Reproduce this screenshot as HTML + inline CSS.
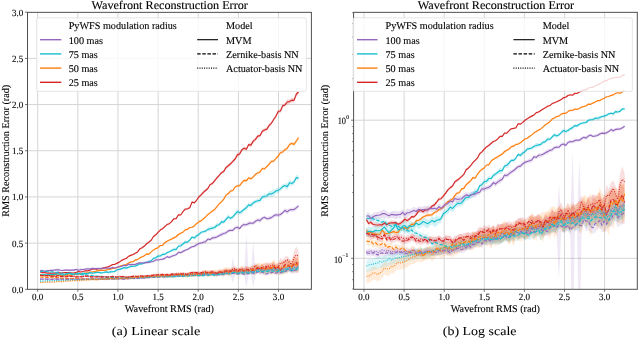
<!DOCTYPE html>
<html><head><meta charset="utf-8"><style>
html,body{margin:0;padding:0;width:638px;height:338px;overflow:hidden;background:#fff}
</style></head><body>
<svg width="638" height="338" viewBox="0 0 638 338" style="position:absolute;left:0;top:0;will-change:transform">
<rect width="638" height="338" fill="#fff"/>
<g font-family='"Liberation Serif", serif' fill="#000" style="text-rendering:geometricPrecision" stroke="#000" stroke-width="0.12">
<clipPath id="clipL"><rect x="27.5" y="12.35" width="283.9" height="276.95"/></clipPath>
<line x1="37.70" y1="12.35" x2="37.70" y2="289.3" stroke="#d5d5d5" stroke-width="1"/>
<line x1="77.84" y1="12.35" x2="77.84" y2="289.3" stroke="#d5d5d5" stroke-width="1"/>
<line x1="117.97" y1="12.35" x2="117.97" y2="289.3" stroke="#d5d5d5" stroke-width="1"/>
<line x1="158.11" y1="12.35" x2="158.11" y2="289.3" stroke="#d5d5d5" stroke-width="1"/>
<line x1="198.24" y1="12.35" x2="198.24" y2="289.3" stroke="#d5d5d5" stroke-width="1"/>
<line x1="238.38" y1="12.35" x2="238.38" y2="289.3" stroke="#d5d5d5" stroke-width="1"/>
<line x1="278.51" y1="12.35" x2="278.51" y2="289.3" stroke="#d5d5d5" stroke-width="1"/>
<line x1="27.5" y1="243.12" x2="311.4" y2="243.12" stroke="#d5d5d5" stroke-width="1"/>
<line x1="27.5" y1="196.93" x2="311.4" y2="196.93" stroke="#d5d5d5" stroke-width="1"/>
<line x1="27.5" y1="150.75" x2="311.4" y2="150.75" stroke="#d5d5d5" stroke-width="1"/>
<line x1="27.5" y1="104.56" x2="311.4" y2="104.56" stroke="#d5d5d5" stroke-width="1"/>
<line x1="27.5" y1="58.38" x2="311.4" y2="58.38" stroke="#d5d5d5" stroke-width="1"/>
<g clip-path="url(#clipL)">
<path d="M40.11,270.96 L42.38,272.19 L44.64,271.96 L46.91,272.55 L49.18,272.46 L51.44,272.54 L53.71,272.67 L55.98,272.50 L58.25,272.12 L60.51,272.51 L62.78,272.17 L65.05,271.92 L67.32,271.92 L69.58,272.02 L71.85,272.43 L74.12,272.13 L76.38,271.63 L78.65,270.84 L80.92,271.19 L83.19,271.00 L85.45,270.28 L87.72,270.37 L89.99,269.61 L92.26,268.39 L94.52,268.18 L96.79,268.50 L99.06,267.81 L101.32,267.68 L103.59,267.54 L105.86,266.65 L108.13,266.15 L110.39,264.98 L112.66,263.89 L114.93,263.78 L117.20,262.48 L119.46,261.16 L121.73,259.62 L124.00,258.59 L126.26,257.66 L128.53,255.69 L130.80,254.46 L133.07,253.64 L135.33,252.51 L137.60,251.18 L139.87,248.03 L142.14,246.85 L144.40,245.32 L146.67,242.99 L148.94,241.20 L151.20,239.47 L153.47,235.67 L155.74,233.76 L158.01,231.56 L160.27,229.21 L162.54,227.80 L164.81,225.56 L167.08,223.60 L169.34,222.86 L171.61,220.68 L173.88,217.78 L176.14,217.55 L178.41,213.66 L180.68,214.05 L182.95,210.66 L185.21,208.10 L187.48,207.61 L189.75,206.54 L192.02,200.86 L194.28,201.76 L196.55,199.21 L198.82,195.44 L201.08,193.79 L203.35,190.21 L205.62,188.95 L207.89,187.33 L210.15,183.39 L212.42,181.88 L214.69,179.19 L216.96,176.53 L219.22,174.18 L221.49,171.33 L223.76,169.73 L226.02,165.96 L228.29,163.75 L230.56,162.17 L232.83,159.66 L235.09,157.36 L237.36,152.73 L239.63,151.84 L241.90,148.18 L244.16,146.56 L246.43,147.58 L248.70,143.10 L250.96,143.10 L253.23,138.98 L255.50,137.39 L257.77,134.63 L260.03,134.12 L262.30,129.36 L264.57,128.18 L266.84,127.13 L269.10,123.32 L271.37,121.60 L273.64,117.91 L275.90,114.65 L278.17,109.84 L280.44,108.92 L282.71,103.93 L284.97,103.12 L287.24,99.23 L289.51,99.52 L291.78,97.64 L294.04,98.62 L296.31,91.97 L298.58,89.21 L298.58,94.43 L296.31,96.50 L294.04,102.07 L291.78,102.70 L289.51,103.65 L287.24,104.78 L284.97,106.79 L282.71,107.68 L280.44,113.15 L278.17,113.10 L275.90,118.03 L273.64,121.05 L271.37,125.06 L269.10,127.57 L266.84,131.12 L264.57,131.83 L262.30,133.16 L260.03,137.25 L257.77,137.71 L255.50,141.41 L253.23,143.32 L250.96,147.07 L248.70,146.12 L246.43,150.73 L244.16,149.75 L241.90,151.45 L239.63,156.11 L237.36,156.98 L235.09,160.64 L232.83,163.07 L230.56,165.43 L228.29,167.64 L226.02,168.89 L223.76,173.05 L221.49,174.00 L219.22,176.66 L216.96,179.25 L214.69,182.20 L212.42,185.06 L210.15,185.59 L207.89,189.65 L205.62,191.94 L203.35,194.47 L201.08,195.89 L198.82,198.56 L196.55,201.34 L194.28,203.86 L192.02,203.44 L189.75,208.97 L187.48,209.93 L185.21,210.24 L182.95,212.78 L180.68,215.87 L178.41,215.77 L176.14,219.83 L173.88,219.64 L171.61,222.69 L169.34,224.53 L167.08,225.53 L164.81,227.72 L162.54,229.61 L160.27,231.01 L158.01,233.22 L155.74,235.86 L153.47,237.41 L151.20,240.95 L148.94,242.87 L146.67,244.54 L144.40,246.79 L142.14,248.77 L139.87,249.67 L137.60,252.59 L135.33,253.90 L133.07,255.28 L130.80,256.25 L128.53,256.98 L126.26,259.31 L124.00,260.04 L121.73,261.11 L119.46,262.70 L117.20,263.76 L114.93,264.93 L112.66,265.21 L110.39,266.59 L108.13,267.43 L105.86,267.80 L103.59,268.74 L101.32,269.47 L99.06,269.26 L96.79,269.92 L94.52,269.30 L92.26,269.69 L89.99,270.69 L87.72,271.37 L85.45,271.28 L83.19,272.04 L80.92,272.80 L78.65,272.26 L76.38,272.85 L74.12,273.40 L71.85,273.58 L69.58,273.13 L67.32,273.30 L65.05,273.29 L62.78,273.28 L60.51,273.81 L58.25,273.18 L55.98,273.84 L53.71,273.65 L51.44,273.85 L49.18,273.83 L46.91,273.58 L44.64,273.00 L42.38,273.42 L40.11,272.41 Z" fill="#d62728" fill-opacity="0.2" stroke="none"/>
<path d="M40.11,273.93 L42.38,274.58 L44.64,274.43 L46.91,274.79 L49.18,275.02 L51.44,274.96 L53.71,275.00 L55.98,273.93 L58.25,274.66 L60.51,274.87 L62.78,274.56 L65.05,274.53 L67.32,274.39 L69.58,274.44 L71.85,274.53 L74.12,273.67 L76.38,273.49 L78.65,273.30 L80.92,273.46 L83.19,273.12 L85.45,272.21 L87.72,272.46 L89.99,271.49 L92.26,271.36 L94.52,270.97 L96.79,270.41 L99.06,269.97 L101.32,269.67 L103.59,269.77 L105.86,269.56 L108.13,268.95 L110.39,268.72 L112.66,267.84 L114.93,267.60 L117.20,267.03 L119.46,266.01 L121.73,264.95 L124.00,264.43 L126.26,263.95 L128.53,262.25 L130.80,261.31 L133.07,261.06 L135.33,259.29 L137.60,258.94 L139.87,257.13 L142.14,256.02 L144.40,254.95 L146.67,252.93 L148.94,253.50 L151.20,251.08 L153.47,249.24 L155.74,247.74 L158.01,246.77 L160.27,244.73 L162.54,244.61 L164.81,241.84 L167.08,240.40 L169.34,239.14 L171.61,237.83 L173.88,236.87 L176.14,235.70 L178.41,233.14 L180.68,232.18 L182.95,231.19 L185.21,228.87 L187.48,228.32 L189.75,226.70 L192.02,226.33 L194.28,224.98 L196.55,222.80 L198.82,220.62 L201.08,219.83 L203.35,217.68 L205.62,216.08 L207.89,213.44 L210.15,211.57 L212.42,209.53 L214.69,208.22 L216.96,205.43 L219.22,202.68 L221.49,200.75 L223.76,197.97 L226.02,194.03 L228.29,192.07 L230.56,189.62 L232.83,189.09 L235.09,185.72 L237.36,184.47 L239.63,184.39 L241.90,181.08 L244.16,179.04 L246.43,178.92 L248.70,176.50 L250.96,177.46 L253.23,175.28 L255.50,173.08 L257.77,171.73 L260.03,170.56 L262.30,167.11 L264.57,167.53 L266.84,165.19 L269.10,162.72 L271.37,160.05 L273.64,159.48 L275.90,157.22 L278.17,154.57 L280.44,151.37 L282.71,150.48 L284.97,148.11 L287.24,147.01 L289.51,143.02 L291.78,141.87 L294.04,142.84 L296.31,138.60 L298.58,135.79 L298.58,139.72 L296.31,143.37 L294.04,146.04 L291.78,144.87 L289.51,146.10 L287.24,149.82 L284.97,150.97 L282.71,153.64 L280.44,154.12 L278.17,157.72 L275.90,159.79 L273.64,162.78 L271.37,162.81 L269.10,166.03 L266.84,167.76 L264.57,170.36 L262.30,169.78 L260.03,173.25 L257.77,174.43 L255.50,175.66 L253.23,178.46 L250.96,180.05 L248.70,179.22 L246.43,182.43 L244.16,181.60 L241.90,184.33 L239.63,187.04 L237.36,187.14 L235.09,188.39 L232.83,191.81 L230.56,192.46 L228.29,195.00 L226.02,196.19 L223.76,200.50 L221.49,202.90 L219.22,204.80 L216.96,208.02 L214.69,210.69 L212.42,212.32 L210.15,214.23 L207.89,215.51 L205.62,217.84 L203.35,220.07 L201.08,221.91 L198.82,223.05 L196.55,224.61 L194.28,226.92 L192.02,228.24 L189.75,228.35 L187.48,230.49 L185.21,230.71 L182.95,233.11 L180.68,234.31 L178.41,235.82 L176.14,237.84 L173.88,238.87 L171.61,240.24 L169.34,241.04 L167.08,242.10 L164.81,243.53 L162.54,246.31 L160.27,246.30 L158.01,248.59 L155.74,249.46 L153.47,250.60 L151.20,252.61 L148.94,254.84 L146.67,254.75 L144.40,256.41 L142.14,257.46 L139.87,258.60 L137.60,260.37 L135.33,260.57 L133.07,262.43 L130.80,262.50 L128.53,263.84 L126.26,265.05 L124.00,265.72 L121.73,266.16 L119.46,267.09 L117.20,268.07 L114.93,268.84 L112.66,269.07 L110.39,269.78 L108.13,270.00 L105.86,270.75 L103.59,270.86 L101.32,270.90 L99.06,271.27 L96.79,271.42 L94.52,272.06 L92.26,272.40 L89.99,272.52 L87.72,273.68 L85.45,273.75 L83.19,274.25 L80.92,275.03 L78.65,274.50 L76.38,274.63 L74.12,274.69 L71.85,275.61 L69.58,275.73 L67.32,275.39 L65.05,275.60 L62.78,275.88 L60.51,275.91 L58.25,275.75 L55.98,275.07 L53.71,276.01 L51.44,276.05 L49.18,276.08 L46.91,276.02 L44.64,275.52 L42.38,276.13 L40.11,275.04 Z" fill="#ff7f0e" fill-opacity="0.2" stroke="none"/>
<path d="M40.11,273.96 L42.38,273.74 L44.64,273.64 L46.91,273.80 L49.18,273.04 L51.44,273.39 L53.71,273.68 L55.98,273.03 L58.25,272.37 L60.51,273.41 L62.78,274.19 L65.05,273.39 L67.32,272.98 L69.58,272.06 L71.85,273.16 L74.12,273.22 L76.38,272.42 L78.65,271.79 L80.92,273.00 L83.19,271.73 L85.45,272.61 L87.72,272.48 L89.99,271.70 L92.26,271.99 L94.52,271.79 L96.79,271.21 L99.06,271.18 L101.32,271.63 L103.59,271.46 L105.86,270.79 L108.13,271.03 L110.39,270.26 L112.66,270.80 L114.93,270.26 L117.20,268.80 L119.46,268.34 L121.73,267.43 L124.00,266.22 L126.26,266.80 L128.53,266.01 L130.80,265.22 L133.07,265.16 L135.33,264.86 L137.60,263.49 L139.87,262.60 L142.14,262.59 L144.40,261.30 L146.67,261.16 L148.94,259.83 L151.20,259.70 L153.47,257.20 L155.74,256.62 L158.01,254.64 L160.27,254.59 L162.54,252.74 L164.81,253.11 L167.08,251.18 L169.34,250.41 L171.61,249.25 L173.88,247.43 L176.14,247.77 L178.41,244.88 L180.68,243.83 L182.95,242.30 L185.21,240.66 L187.48,240.56 L189.75,238.82 L192.02,235.61 L194.28,236.38 L196.55,233.67 L198.82,232.97 L201.08,230.77 L203.35,230.28 L205.62,229.42 L207.89,227.85 L210.15,226.13 L212.42,226.23 L214.69,225.58 L216.96,223.05 L219.22,222.94 L221.49,219.62 L223.76,220.33 L226.02,217.22 L228.29,214.28 L230.56,216.48 L232.83,214.91 L235.09,212.15 L237.36,208.68 L239.63,210.46 L241.90,209.26 L244.16,207.25 L246.43,204.63 L248.70,203.01 L250.96,202.81 L253.23,200.80 L255.50,199.54 L257.77,198.67 L260.03,198.03 L262.30,194.81 L264.57,193.75 L266.84,193.94 L269.10,191.01 L271.37,190.86 L273.64,189.50 L275.90,188.80 L278.17,187.37 L280.44,186.78 L282.71,184.17 L284.97,183.46 L287.24,183.34 L289.51,179.55 L291.78,180.97 L294.04,179.79 L296.31,174.98 L298.58,175.75 L298.58,180.49 L296.31,180.21 L294.04,184.39 L291.78,185.98 L289.51,186.06 L287.24,189.95 L284.97,187.70 L282.71,189.06 L280.44,190.98 L278.17,193.41 L275.90,193.28 L273.64,196.18 L271.37,197.01 L269.10,196.47 L266.84,197.99 L264.57,198.67 L262.30,199.23 L260.03,202.85 L257.77,202.86 L255.50,203.42 L253.23,205.07 L250.96,207.84 L248.70,206.67 L246.43,210.73 L244.16,211.23 L241.90,213.65 L239.63,214.92 L237.36,214.44 L235.09,216.29 L232.83,218.90 L230.56,220.12 L228.29,219.46 L226.02,221.46 L223.76,223.85 L221.49,224.20 L219.22,226.46 L216.96,227.51 L214.69,229.48 L212.42,229.93 L210.15,231.28 L207.89,230.97 L205.62,232.93 L203.35,233.21 L201.08,233.79 L198.82,236.40 L196.55,237.97 L194.28,239.62 L192.02,238.47 L189.75,241.53 L187.48,243.59 L185.21,243.37 L182.95,245.78 L180.68,247.77 L178.41,247.59 L176.14,251.13 L173.88,251.42 L171.61,251.75 L169.34,252.96 L167.08,254.04 L164.81,255.65 L162.54,256.00 L160.27,257.39 L158.01,257.50 L155.74,258.91 L153.47,259.56 L151.20,262.17 L148.94,263.06 L146.67,263.69 L144.40,264.14 L142.14,265.11 L139.87,265.06 L137.60,266.43 L135.33,267.33 L133.07,267.26 L130.80,267.49 L128.53,268.46 L126.26,269.39 L124.00,269.00 L121.73,269.90 L119.46,270.39 L117.20,270.78 L114.93,272.42 L112.66,272.77 L110.39,273.52 L108.13,273.72 L105.86,273.06 L103.59,273.48 L101.32,274.11 L99.06,273.88 L96.79,273.26 L94.52,273.99 L92.26,274.31 L89.99,273.60 L87.72,274.40 L85.45,274.61 L83.19,275.03 L80.92,275.09 L78.65,274.93 L76.38,274.67 L74.12,275.31 L71.85,275.87 L69.58,274.08 L67.32,275.00 L65.05,275.69 L62.78,276.15 L60.51,275.69 L58.25,275.14 L55.98,275.40 L53.71,275.64 L51.44,275.99 L49.18,276.11 L46.91,276.08 L44.64,276.11 L42.38,275.88 L40.11,276.20 Z" fill="#17becf" fill-opacity="0.2" stroke="none"/>
<path d="M40.11,269.55 L42.38,269.40 L44.64,270.38 L46.91,269.62 L49.18,269.41 L51.44,269.31 L53.71,269.07 L55.98,268.60 L58.25,268.34 L60.51,269.14 L62.78,269.51 L65.05,269.09 L67.32,268.99 L69.58,269.01 L71.85,269.10 L74.12,268.85 L76.38,268.39 L78.65,269.12 L80.92,268.08 L83.19,268.42 L85.45,268.15 L87.72,267.51 L89.99,267.99 L92.26,267.32 L94.52,267.60 L96.79,267.27 L99.06,267.15 L101.32,267.23 L103.59,266.82 L105.86,267.22 L108.13,266.93 L110.39,267.35 L112.66,266.10 L114.93,266.91 L117.20,266.31 L119.46,265.47 L121.73,264.98 L124.00,264.07 L126.26,264.64 L128.53,262.98 L130.80,263.18 L133.07,263.13 L135.33,263.16 L137.60,262.00 L139.87,261.39 L142.14,261.79 L144.40,261.66 L146.67,261.05 L148.94,260.87 L151.20,260.57 L153.47,260.31 L155.74,258.57 L158.01,258.70 L160.27,258.39 L162.54,257.97 L164.81,257.01 L167.08,255.30 L169.34,255.92 L171.61,254.99 L173.88,253.66 L176.14,253.54 L178.41,250.94 L180.68,251.30 L182.95,249.78 L185.21,249.09 L187.48,248.18 L189.75,246.44 L192.02,245.43 L194.28,244.79 L196.55,242.99 L198.82,242.14 L201.08,241.53 L203.35,240.36 L205.62,239.87 L207.89,237.39 L210.15,238.26 L212.42,235.86 L214.69,235.81 L216.96,235.29 L219.22,233.75 L221.49,232.26 L223.76,231.88 L226.02,230.72 L228.29,229.06 L230.56,228.74 L232.83,228.79 L235.09,225.91 L237.36,225.39 L239.63,226.89 L241.90,223.84 L244.16,222.41 L246.43,223.12 L248.70,221.01 L250.96,221.47 L253.23,221.39 L255.50,219.17 L257.77,218.17 L260.03,218.36 L262.30,216.48 L264.57,215.52 L266.84,217.07 L269.10,216.16 L271.37,215.73 L273.64,213.66 L275.90,212.94 L278.17,212.96 L280.44,212.32 L282.71,210.96 L284.97,208.21 L287.24,209.46 L289.51,208.25 L291.78,207.66 L294.04,207.41 L296.31,205.73 L298.58,203.93 L298.58,207.73 L296.31,210.06 L294.04,211.63 L291.78,211.72 L289.51,211.85 L287.24,214.34 L284.97,212.48 L282.71,214.59 L280.44,216.66 L278.17,217.25 L275.90,216.67 L273.64,218.09 L271.37,219.60 L269.10,220.50 L266.84,220.46 L264.57,218.90 L262.30,220.04 L260.03,223.06 L257.77,221.58 L255.50,223.35 L253.23,225.03 L250.96,224.73 L248.70,225.86 L246.43,226.47 L244.16,226.70 L241.90,227.26 L239.63,230.19 L237.36,229.14 L235.09,229.98 L232.83,232.20 L230.56,232.04 L228.29,232.55 L226.02,234.89 L223.76,235.01 L221.49,236.97 L219.22,237.36 L216.96,238.58 L214.69,239.44 L212.42,239.75 L210.15,241.08 L207.89,240.68 L205.62,243.60 L203.35,244.21 L201.08,244.39 L198.82,245.07 L196.55,246.39 L194.28,247.97 L192.02,248.05 L189.75,249.64 L187.48,250.68 L185.21,251.56 L182.95,252.99 L180.68,254.04 L178.41,253.65 L176.14,256.07 L173.88,257.25 L171.61,257.54 L169.34,258.96 L167.08,258.02 L164.81,259.76 L162.54,260.31 L160.27,260.63 L158.01,261.31 L155.74,261.14 L153.47,262.67 L151.20,262.99 L148.94,263.84 L146.67,263.81 L144.40,264.12 L142.14,264.29 L139.87,264.06 L137.60,264.99 L135.33,265.56 L133.07,265.91 L130.80,266.03 L128.53,265.50 L126.26,266.79 L124.00,266.51 L121.73,267.51 L119.46,267.65 L117.20,268.31 L114.93,269.23 L112.66,268.80 L110.39,269.42 L108.13,269.15 L105.86,269.28 L103.59,269.26 L101.32,269.69 L99.06,269.92 L96.79,269.65 L94.52,269.63 L92.26,269.44 L89.99,270.29 L87.72,270.06 L85.45,270.15 L83.19,270.59 L80.92,271.04 L78.65,271.36 L76.38,270.45 L74.12,271.38 L71.85,271.26 L69.58,271.62 L67.32,271.37 L65.05,271.08 L62.78,271.59 L60.51,271.31 L58.25,271.29 L55.98,271.10 L53.71,271.50 L51.44,271.38 L49.18,271.51 L46.91,272.07 L44.64,272.48 L42.38,271.68 L40.11,271.65 Z" fill="#9467bd" fill-opacity="0.2" stroke="none"/>
<path d="M40.11,278.68 L42.38,278.74 L44.64,278.79 L46.91,278.62 L49.18,278.86 L51.44,279.06 L53.71,278.77 L55.98,278.68 L58.25,278.87 L60.51,278.65 L62.78,278.71 L65.05,278.68 L67.32,278.83 L69.58,278.59 L71.85,278.45 L74.12,278.52 L76.38,278.61 L78.65,278.68 L80.92,278.79 L83.19,278.54 L85.45,278.65 L87.72,278.72 L89.99,278.68 L92.26,278.54 L94.52,278.76 L96.79,278.66 L99.06,278.44 L101.32,278.47 L103.59,278.51 L105.86,278.45 L108.13,278.41 L110.39,278.57 L112.66,278.10 L114.93,278.31 L117.20,278.18 L119.46,278.19 L121.73,278.28 L124.00,278.53 L126.26,278.17 L128.53,277.97 L130.80,277.66 L133.07,277.80 L135.33,277.99 L137.60,277.81 L139.87,277.56 L142.14,277.02 L144.40,277.47 L146.67,276.95 L148.94,276.81 L151.20,276.53 L153.47,276.24 L155.74,276.81 L158.01,275.99 L160.27,276.12 L162.54,275.75 L164.81,276.16 L167.08,275.77 L169.34,275.36 L171.61,275.59 L173.88,275.21 L176.14,275.28 L178.41,274.71 L180.68,275.40 L182.95,275.01 L185.21,274.57 L187.48,274.83 L189.75,273.92 L192.02,274.02 L194.28,273.50 L196.55,274.08 L198.82,273.91 L201.08,274.05 L203.35,274.21 L205.62,272.81 L207.89,273.68 L210.15,273.03 L212.42,272.44 L214.69,273.29 L216.96,273.08 L219.22,273.34 L221.49,273.73 L223.76,272.83 L226.02,272.52 L228.29,271.64 L230.56,272.33 L232.83,257.11 L235.09,272.02 L237.36,272.62 L239.63,272.51 L241.90,271.75 L244.16,273.13 L246.43,233.56 L248.70,272.21 L250.96,271.38 L253.23,241.01 L255.50,271.71 L257.77,270.24 L260.03,269.47 L262.30,269.51 L264.57,271.87 L266.84,272.50 L269.10,270.32 L271.37,270.83 L273.64,269.97 L275.90,271.47 L278.17,269.32 L280.44,271.47 L282.71,270.02 L284.97,269.64 L287.24,268.45 L289.51,267.41 L291.78,268.26 L294.04,267.78 L296.31,266.78 L298.58,266.35 L298.58,272.96 L296.31,273.00 L294.04,273.29 L291.78,273.96 L289.51,272.31 L287.24,271.91 L284.97,273.81 L282.71,273.27 L280.44,274.60 L278.17,274.93 L275.90,275.05 L273.64,273.94 L271.37,274.33 L269.10,275.23 L266.84,275.41 L264.57,275.14 L262.30,274.66 L260.03,274.77 L257.77,273.19 L255.50,275.11 L253.23,287.45 L250.96,274.46 L248.70,274.99 L246.43,287.45 L244.16,275.78 L241.90,274.75 L239.63,275.06 L237.36,275.10 L235.09,274.95 L232.83,282.86 L230.56,275.52 L228.29,275.12 L226.02,275.07 L223.76,275.18 L221.49,276.08 L219.22,275.77 L216.96,276.14 L214.69,275.54 L212.42,275.61 L210.15,275.64 L207.89,276.56 L205.62,275.17 L203.35,276.43 L201.08,276.05 L198.82,276.67 L196.55,276.24 L194.28,275.99 L192.02,276.37 L189.75,275.92 L187.48,276.69 L185.21,276.46 L182.95,277.14 L180.68,277.14 L178.41,276.66 L176.14,277.17 L173.88,277.55 L171.61,277.42 L169.34,277.17 L167.08,277.53 L164.81,277.91 L162.54,277.61 L160.27,277.86 L158.01,277.64 L155.74,278.38 L153.47,278.10 L151.20,278.05 L148.94,278.34 L146.67,278.47 L144.40,278.86 L142.14,278.49 L139.87,278.92 L137.60,279.18 L135.33,279.30 L133.07,279.13 L130.80,279.01 L128.53,279.25 L126.26,279.40 L124.00,279.77 L121.73,279.53 L119.46,279.45 L117.20,279.42 L114.93,279.49 L112.66,279.32 L110.39,279.70 L108.13,279.58 L105.86,279.61 L103.59,279.65 L101.32,279.63 L99.06,279.56 L96.79,279.78 L94.52,279.85 L92.26,279.67 L89.99,279.76 L87.72,279.80 L85.45,279.74 L83.19,279.64 L80.92,279.86 L78.65,279.75 L76.38,279.70 L74.12,279.59 L71.85,279.53 L69.58,279.65 L67.32,279.86 L65.05,279.72 L62.78,279.74 L60.51,279.68 L58.25,279.88 L55.98,279.71 L53.71,279.79 L51.44,280.04 L49.18,279.87 L46.91,279.64 L44.64,279.80 L42.38,279.75 L40.11,279.69 Z" fill="#9467bd" fill-opacity="0.15" stroke="none"/>
<path d="M40.11,270.39 L42.38,270.47 L44.64,270.31 L46.91,270.58 L49.18,270.84 L51.44,271.04 L53.71,271.27 L55.98,271.61 L58.25,271.20 L60.51,272.10 L62.78,272.37 L65.05,272.71 L67.32,272.50 L69.58,272.14 L71.85,272.73 L74.12,273.15 L76.38,273.07 L78.65,273.70 L80.92,273.74 L83.19,274.06 L85.45,273.70 L87.72,274.41 L89.99,274.45 L92.26,274.83 L94.52,275.04 L96.79,275.32 L99.06,275.47 L101.32,275.55 L103.59,276.17 L105.86,276.91 L108.13,276.52 L110.39,276.63 L112.66,276.97 L114.93,277.01 L117.20,277.09 L119.46,277.29 L121.73,277.61 L124.00,277.44 L126.26,277.30 L128.53,277.12 L130.80,277.20 L133.07,277.08 L135.33,276.56 L137.60,277.06 L139.87,276.98 L142.14,276.82 L144.40,276.24 L146.67,276.18 L148.94,276.22 L151.20,275.80 L153.47,275.74 L155.74,275.58 L158.01,275.64 L160.27,275.62 L162.54,275.55 L164.81,275.65 L167.08,275.79 L169.34,275.71 L171.61,275.56 L173.88,275.53 L176.14,275.12 L178.41,274.79 L180.68,274.86 L182.95,275.26 L185.21,274.82 L187.48,274.81 L189.75,274.95 L192.02,274.47 L194.28,274.10 L196.55,274.07 L198.82,274.15 L201.08,274.43 L203.35,274.70 L205.62,273.81 L207.89,273.97 L210.15,273.69 L212.42,273.07 L214.69,274.22 L216.96,273.18 L219.22,272.84 L221.49,272.93 L223.76,272.24 L226.02,271.09 L228.29,271.67 L230.56,271.55 L232.83,270.71 L235.09,270.12 L237.36,271.65 L239.63,271.73 L241.90,270.42 L244.16,270.71 L246.43,270.69 L248.70,271.78 L250.96,271.25 L253.23,270.01 L255.50,269.40 L257.77,269.40 L260.03,268.51 L262.30,269.24 L264.57,270.21 L266.84,269.21 L269.10,268.43 L271.37,268.43 L273.64,268.83 L275.90,268.38 L278.17,269.22 L280.44,269.07 L282.71,270.19 L284.97,267.41 L287.24,266.68 L289.51,266.78 L291.78,268.21 L294.04,267.17 L296.31,266.66 L298.58,265.98 L298.58,270.66 L296.31,271.83 L294.04,271.42 L291.78,272.57 L289.51,271.93 L287.24,271.14 L284.97,273.38 L282.71,273.63 L280.44,273.69 L278.17,272.81 L275.90,274.06 L273.64,273.37 L271.37,273.51 L269.10,273.42 L266.84,273.55 L264.57,273.98 L262.30,273.22 L260.03,274.22 L257.77,273.02 L255.50,273.06 L253.23,274.89 L250.96,274.38 L248.70,274.61 L246.43,274.42 L244.16,275.21 L241.90,274.56 L239.63,274.54 L237.36,274.85 L235.09,273.86 L232.83,274.00 L230.56,274.55 L228.29,274.93 L226.02,274.95 L223.76,275.57 L221.49,275.47 L219.22,275.38 L216.96,276.45 L214.69,276.81 L212.42,276.01 L210.15,276.00 L207.89,276.44 L205.62,276.34 L203.35,276.87 L201.08,276.54 L198.82,276.93 L196.55,276.21 L194.28,276.36 L192.02,276.96 L189.75,276.96 L187.48,276.85 L185.21,277.04 L182.95,277.25 L180.68,277.00 L178.41,276.77 L176.14,277.33 L173.88,277.70 L171.61,277.62 L169.34,277.50 L167.08,277.61 L164.81,277.42 L162.54,277.35 L160.27,277.54 L158.01,277.48 L155.74,277.31 L153.47,277.40 L151.20,277.53 L148.94,277.89 L146.67,277.96 L144.40,277.88 L142.14,278.32 L139.87,278.45 L137.60,278.53 L135.33,278.10 L133.07,278.51 L130.80,278.62 L128.53,278.57 L126.26,278.68 L124.00,278.78 L121.73,278.99 L119.46,278.66 L117.20,278.47 L114.93,278.41 L112.66,278.34 L110.39,278.03 L108.13,277.91 L105.86,278.25 L103.59,277.58 L101.32,277.07 L99.06,276.97 L96.79,276.81 L94.52,276.55 L92.26,276.35 L89.99,276.00 L87.72,275.98 L85.45,275.34 L83.19,275.63 L80.92,275.35 L78.65,275.29 L76.38,274.70 L74.12,274.79 L71.85,274.38 L69.58,273.86 L67.32,274.16 L65.05,274.34 L62.78,274.03 L60.51,273.79 L58.25,272.96 L55.98,273.32 L53.71,273.02 L51.44,272.80 L49.18,272.61 L46.91,272.38 L44.64,272.12 L42.38,272.27 L40.11,272.19 Z" fill="#17becf" fill-opacity="0.15" stroke="none"/>
<path d="M40.11,276.26 L42.38,276.35 L44.64,276.27 L46.91,276.83 L49.18,276.60 L51.44,277.00 L53.71,277.03 L55.98,276.76 L58.25,276.81 L60.51,277.54 L62.78,277.35 L65.05,277.36 L67.32,277.90 L69.58,277.42 L71.85,277.75 L74.12,277.80 L76.38,277.47 L78.65,277.99 L80.92,278.20 L83.19,278.36 L85.45,277.94 L87.72,278.00 L89.99,278.73 L92.26,278.09 L94.52,278.05 L96.79,279.01 L99.06,278.49 L101.32,278.13 L103.59,278.11 L105.86,277.99 L108.13,278.08 L110.39,277.39 L112.66,277.86 L114.93,277.43 L117.20,277.26 L119.46,277.11 L121.73,277.41 L124.00,276.97 L126.26,276.46 L128.53,276.96 L130.80,276.38 L133.07,276.18 L135.33,276.32 L137.60,276.11 L139.87,275.75 L142.14,275.73 L144.40,276.15 L146.67,274.88 L148.94,275.26 L151.20,274.84 L153.47,274.59 L155.74,274.58 L158.01,274.87 L160.27,274.50 L162.54,274.00 L164.81,273.93 L167.08,273.25 L169.34,274.22 L171.61,273.11 L173.88,273.61 L176.14,272.65 L178.41,273.61 L180.68,273.04 L182.95,273.48 L185.21,272.48 L187.48,273.61 L189.75,271.87 L192.02,272.63 L194.28,272.02 L196.55,272.13 L198.82,272.28 L201.08,272.48 L203.35,271.07 L205.62,269.67 L207.89,271.43 L210.15,270.77 L212.42,271.26 L214.69,270.17 L216.96,271.15 L219.22,269.97 L221.49,268.85 L223.76,270.25 L226.02,267.98 L228.29,269.47 L230.56,267.82 L232.83,267.55 L235.09,268.65 L237.36,268.37 L239.63,268.20 L241.90,268.26 L244.16,266.37 L246.43,265.82 L248.70,266.99 L250.96,266.06 L253.23,265.66 L255.50,264.64 L257.77,263.33 L260.03,264.96 L262.30,263.71 L264.57,261.96 L266.84,264.41 L269.10,264.42 L271.37,261.90 L273.64,261.58 L275.90,264.70 L278.17,265.64 L280.44,263.61 L282.71,261.72 L284.97,259.98 L287.24,261.03 L289.51,259.03 L291.78,260.54 L294.04,254.87 L296.31,258.49 L298.58,252.99 L298.58,271.23 L296.31,272.57 L294.04,272.86 L291.78,272.33 L289.51,270.30 L287.24,272.13 L284.97,270.86 L282.71,275.80 L280.44,274.22 L278.17,275.27 L275.90,274.08 L273.64,274.18 L271.37,273.39 L269.10,272.78 L266.84,272.75 L264.57,276.14 L262.30,273.33 L260.03,273.48 L257.77,272.49 L255.50,275.20 L253.23,275.13 L250.96,273.09 L248.70,274.36 L246.43,274.56 L244.16,274.66 L241.90,274.23 L239.63,274.77 L237.36,275.05 L235.09,274.88 L232.83,273.90 L230.56,274.15 L228.29,276.70 L226.02,273.87 L223.76,276.71 L221.49,275.45 L219.22,275.87 L216.96,275.81 L214.69,276.90 L212.42,275.83 L210.15,275.68 L207.89,276.98 L205.62,276.27 L203.35,275.80 L201.08,276.61 L198.82,276.61 L196.55,276.16 L194.28,276.28 L192.02,276.71 L189.75,276.53 L187.48,277.42 L185.21,276.55 L182.95,277.56 L180.68,276.66 L178.41,277.24 L176.14,277.07 L173.88,277.27 L171.61,276.86 L169.34,277.49 L167.08,276.55 L164.81,277.08 L162.54,277.25 L160.27,277.44 L158.01,277.69 L155.74,277.59 L153.47,277.52 L151.20,277.82 L148.94,278.07 L146.67,277.59 L144.40,278.58 L142.14,278.29 L139.87,278.41 L137.60,278.49 L135.33,278.67 L133.07,278.47 L130.80,278.60 L128.53,279.02 L126.26,278.74 L124.00,279.17 L121.73,279.58 L119.46,279.11 L117.20,279.29 L114.93,279.28 L112.66,279.65 L110.39,279.26 L108.13,279.78 L105.86,279.69 L103.59,279.85 L101.32,279.80 L99.06,280.11 L96.79,280.53 L94.52,279.64 L92.26,279.65 L89.99,280.21 L87.72,279.54 L85.45,279.46 L83.19,279.81 L80.92,279.68 L78.65,279.47 L76.38,278.99 L74.12,279.27 L71.85,279.21 L69.58,278.91 L67.32,279.31 L65.05,278.83 L62.78,278.81 L60.51,278.95 L58.25,278.30 L55.98,278.24 L53.71,278.47 L51.44,278.44 L49.18,278.07 L46.91,278.26 L44.64,277.76 L42.38,277.82 L40.11,277.74 Z" fill="#ff7f0e" fill-opacity="0.15" stroke="none"/>
<path d="M40.11,274.49 L42.38,274.84 L44.64,274.81 L46.91,274.95 L49.18,275.13 L51.44,275.48 L53.71,275.73 L55.98,275.91 L58.25,274.87 L60.51,276.09 L62.78,275.64 L65.05,276.13 L67.32,275.94 L69.58,275.78 L71.85,275.62 L74.12,276.13 L76.38,276.36 L78.65,276.26 L80.92,276.12 L83.19,275.89 L85.45,275.37 L87.72,275.44 L89.99,276.40 L92.26,276.18 L94.52,276.38 L96.79,276.24 L99.06,275.73 L101.32,276.45 L103.59,275.85 L105.86,276.09 L108.13,276.24 L110.39,276.13 L112.66,275.59 L114.93,276.16 L117.20,276.25 L119.46,275.82 L121.73,275.83 L124.00,275.84 L126.26,276.52 L128.53,276.35 L130.80,275.71 L133.07,275.47 L135.33,275.42 L137.60,275.93 L139.87,275.21 L142.14,274.96 L144.40,275.57 L146.67,275.07 L148.94,274.87 L151.20,274.91 L153.47,274.03 L155.74,273.97 L158.01,274.05 L160.27,273.83 L162.54,273.10 L164.81,274.07 L167.08,273.30 L169.34,273.75 L171.61,272.80 L173.88,272.94 L176.14,273.04 L178.41,273.13 L180.68,272.47 L182.95,272.98 L185.21,272.91 L187.48,273.34 L189.75,272.00 L192.02,271.12 L194.28,271.46 L196.55,270.91 L198.82,271.62 L201.08,271.02 L203.35,270.37 L205.62,271.10 L207.89,270.73 L210.15,270.43 L212.42,270.19 L214.69,270.68 L216.96,271.79 L219.22,270.01 L221.49,270.73 L223.76,269.31 L226.02,268.30 L228.29,269.59 L230.56,269.06 L232.83,269.58 L235.09,268.10 L237.36,269.61 L239.63,267.80 L241.90,267.97 L244.16,268.22 L246.43,266.95 L248.70,267.78 L250.96,268.75 L253.23,267.52 L255.50,266.68 L257.77,265.72 L260.03,265.98 L262.30,264.15 L264.57,266.90 L266.84,262.50 L269.10,264.52 L271.37,265.32 L273.64,263.54 L275.90,264.62 L278.17,262.84 L280.44,267.76 L282.71,263.81 L284.97,259.47 L287.24,261.26 L289.51,262.93 L291.78,263.37 L294.04,261.17 L296.31,256.98 L298.58,260.73 L298.58,270.99 L296.31,268.38 L294.04,267.70 L291.78,269.93 L289.51,270.22 L287.24,268.00 L284.97,269.93 L282.71,272.75 L280.44,272.86 L278.17,270.80 L275.90,272.69 L273.64,269.88 L271.37,271.70 L269.10,270.95 L266.84,271.16 L264.57,271.45 L262.30,271.25 L260.03,271.67 L257.77,270.54 L255.50,271.70 L253.23,272.28 L250.96,272.78 L248.70,273.03 L246.43,271.65 L244.16,274.36 L241.90,271.97 L239.63,271.76 L237.36,274.12 L235.09,271.96 L232.83,273.27 L230.56,272.62 L228.29,273.08 L226.02,273.72 L223.76,272.73 L221.49,274.00 L219.22,273.59 L216.96,275.71 L214.69,274.13 L212.42,273.77 L210.15,274.13 L207.89,274.41 L205.62,274.43 L203.35,273.82 L201.08,274.40 L198.82,274.62 L196.55,274.35 L194.28,274.19 L192.02,274.03 L189.75,274.62 L187.48,275.72 L185.21,275.78 L182.95,275.66 L180.68,275.10 L178.41,275.73 L176.14,275.39 L173.88,275.42 L171.61,275.52 L169.34,276.19 L167.08,275.64 L164.81,276.43 L162.54,275.38 L160.27,276.09 L158.01,276.12 L155.74,276.05 L153.47,276.22 L151.20,276.96 L148.94,276.90 L146.67,277.12 L144.40,277.38 L142.14,276.95 L139.87,277.02 L137.60,277.72 L135.33,277.20 L133.07,277.28 L130.80,277.41 L128.53,278.00 L126.26,278.14 L124.00,277.53 L121.73,277.48 L119.46,277.50 L117.20,277.78 L114.93,277.71 L112.66,277.20 L110.39,277.65 L108.13,277.73 L105.86,277.60 L103.59,277.35 L101.32,277.89 L99.06,277.26 L96.79,277.67 L94.52,277.79 L92.26,277.59 L89.99,277.79 L87.72,276.93 L85.45,276.86 L83.19,277.33 L80.92,277.51 L78.65,277.63 L76.38,277.70 L74.12,277.48 L71.85,277.01 L69.58,277.15 L67.32,277.28 L65.05,277.45 L62.78,277.00 L60.51,277.39 L58.25,276.28 L55.98,277.22 L53.71,277.05 L51.44,276.82 L49.18,276.50 L46.91,276.33 L44.64,276.20 L42.38,276.23 L40.11,275.91 Z" fill="#d62728" fill-opacity="0.15" stroke="none"/>
<path d="M40.11,278.54 L42.38,278.43 L44.64,278.31 L46.91,278.68 L49.18,278.27 L51.44,278.60 L53.71,278.33 L55.98,278.09 L58.25,278.22 L60.51,278.38 L62.78,278.25 L65.05,278.49 L67.32,278.41 L69.58,278.30 L71.85,278.36 L74.12,278.48 L76.38,278.45 L78.65,278.41 L80.92,278.39 L83.19,278.59 L85.45,278.25 L87.72,278.14 L89.99,278.56 L92.26,278.64 L94.52,278.28 L96.79,278.60 L99.06,278.37 L101.32,278.19 L103.59,278.27 L105.86,278.53 L108.13,278.42 L110.39,278.47 L112.66,278.35 L114.93,278.28 L117.20,278.13 L119.46,278.05 L121.73,277.99 L124.00,278.19 L126.26,277.95 L128.53,278.00 L130.80,277.84 L133.07,277.48 L135.33,277.34 L137.60,277.39 L139.87,277.13 L142.14,276.95 L144.40,277.01 L146.67,276.66 L148.94,276.48 L151.20,276.09 L153.47,275.68 L155.74,275.65 L158.01,275.36 L160.27,275.32 L162.54,275.38 L164.81,275.33 L167.08,275.11 L169.34,275.16 L171.61,274.85 L173.88,274.97 L176.14,274.23 L178.41,274.69 L180.68,274.53 L182.95,274.52 L185.21,274.52 L187.48,274.00 L189.75,273.90 L192.02,274.03 L194.28,274.18 L196.55,273.12 L198.82,273.09 L201.08,273.45 L203.35,273.34 L205.62,272.27 L207.89,272.85 L210.15,272.52 L212.42,271.97 L214.69,272.65 L216.96,271.32 L219.22,271.47 L221.49,270.79 L223.76,271.59 L226.02,270.41 L228.29,269.82 L230.56,270.84 L232.83,269.10 L235.09,268.81 L237.36,269.79 L239.63,270.32 L241.90,269.41 L244.16,269.43 L246.43,269.71 L248.70,268.83 L250.96,269.52 L253.23,270.10 L255.50,267.82 L257.77,266.99 L260.03,267.03 L262.30,267.28 L264.57,268.65 L266.84,266.29 L269.10,267.11 L271.37,267.05 L273.64,267.09 L275.90,266.98 L278.17,267.43 L280.44,267.42 L282.71,265.28 L284.97,266.68 L287.24,265.53 L289.51,265.10 L291.78,266.94 L294.04,263.23 L296.31,263.71 L298.58,262.57 L298.58,268.95 L296.31,271.04 L294.04,270.74 L291.78,272.16 L289.51,270.11 L287.24,269.98 L284.97,271.26 L282.71,270.93 L280.44,272.83 L278.17,271.07 L275.90,272.61 L273.64,272.79 L271.37,271.14 L269.10,272.20 L266.84,271.64 L264.57,272.05 L262.30,272.57 L260.03,270.72 L257.77,271.76 L255.50,272.27 L253.23,273.81 L250.96,272.66 L248.70,273.47 L246.43,272.72 L244.16,273.15 L241.90,272.37 L239.63,273.48 L237.36,273.51 L235.09,272.49 L232.83,272.80 L230.56,274.17 L228.29,273.46 L226.02,273.25 L223.76,274.25 L221.49,273.91 L219.22,274.63 L216.96,273.98 L214.69,275.00 L212.42,274.93 L210.15,275.00 L207.89,275.35 L205.62,275.26 L203.35,275.49 L201.08,276.11 L198.82,275.47 L196.55,275.34 L194.28,276.21 L192.02,276.33 L189.75,275.91 L187.48,276.04 L185.21,276.43 L182.95,276.57 L180.68,276.40 L178.41,276.72 L176.14,276.23 L173.88,276.96 L171.61,276.84 L169.34,277.04 L167.08,277.37 L164.81,277.30 L162.54,277.09 L160.27,277.07 L158.01,277.21 L155.74,277.37 L153.47,277.39 L151.20,277.65 L148.94,277.96 L146.67,278.23 L144.40,278.45 L142.14,278.42 L139.87,278.69 L137.60,278.74 L135.33,278.88 L133.07,278.98 L130.80,279.23 L128.53,279.29 L126.26,279.26 L124.00,279.43 L121.73,279.24 L119.46,279.30 L117.20,279.35 L114.93,279.55 L112.66,279.52 L110.39,279.62 L108.13,279.58 L105.86,279.67 L103.59,279.45 L101.32,279.41 L99.06,279.51 L96.79,279.70 L94.52,279.44 L92.26,279.75 L89.99,279.68 L87.72,279.28 L85.45,279.38 L83.19,279.68 L80.92,279.48 L78.65,279.52 L76.38,279.55 L74.12,279.56 L71.85,279.44 L69.58,279.39 L67.32,279.48 L65.05,279.55 L62.78,279.33 L60.51,279.44 L58.25,279.29 L55.98,279.17 L53.71,279.39 L51.44,279.63 L49.18,279.32 L46.91,279.70 L44.64,279.36 L42.38,279.47 L40.11,279.57 Z" fill="#9467bd" fill-opacity="0.15" stroke="none"/>
<path d="M40.11,280.39 L42.38,280.22 L44.64,280.16 L46.91,280.10 L49.18,280.02 L51.44,279.95 L53.71,279.70 L55.98,279.83 L58.25,279.58 L60.51,279.66 L62.78,279.21 L65.05,279.52 L67.32,279.30 L69.58,279.11 L71.85,279.18 L74.12,278.99 L76.38,278.99 L78.65,278.90 L80.92,278.89 L83.19,278.73 L85.45,278.62 L87.72,278.61 L89.99,278.34 L92.26,278.52 L94.52,278.22 L96.79,278.41 L99.06,278.23 L101.32,278.22 L103.59,278.25 L105.86,277.96 L108.13,277.79 L110.39,277.77 L112.66,277.84 L114.93,277.75 L117.20,277.45 L119.46,277.08 L121.73,277.49 L124.00,277.56 L126.26,277.20 L128.53,277.21 L130.80,277.01 L133.07,277.05 L135.33,276.59 L137.60,276.51 L139.87,276.81 L142.14,276.75 L144.40,276.38 L146.67,276.17 L148.94,276.11 L151.20,275.94 L153.47,276.05 L155.74,275.39 L158.01,275.32 L160.27,275.59 L162.54,275.28 L164.81,275.81 L167.08,275.25 L169.34,275.49 L171.61,275.20 L173.88,274.78 L176.14,275.20 L178.41,274.59 L180.68,274.44 L182.95,274.66 L185.21,273.43 L187.48,274.63 L189.75,273.10 L192.02,273.85 L194.28,274.09 L196.55,273.92 L198.82,274.07 L201.08,273.35 L203.35,272.44 L205.62,272.05 L207.89,273.06 L210.15,272.97 L212.42,273.21 L214.69,273.10 L216.96,272.44 L219.22,272.99 L221.49,272.09 L223.76,271.95 L226.02,271.06 L228.29,272.05 L230.56,272.09 L232.83,271.50 L235.09,270.50 L237.36,271.79 L239.63,271.20 L241.90,270.14 L244.16,270.02 L246.43,268.77 L248.70,270.17 L250.96,268.99 L253.23,270.56 L255.50,268.76 L257.77,268.01 L260.03,267.69 L262.30,269.18 L264.57,268.87 L266.84,267.09 L269.10,268.73 L271.37,267.42 L273.64,266.01 L275.90,267.86 L278.17,266.84 L280.44,268.67 L282.71,268.62 L284.97,266.76 L287.24,265.69 L289.51,263.91 L291.78,266.83 L294.04,263.39 L296.31,266.30 L298.58,264.25 L298.58,268.87 L296.31,271.36 L294.04,271.92 L291.78,271.73 L289.51,270.08 L287.24,273.32 L284.97,270.83 L282.71,272.63 L280.44,273.06 L278.17,271.87 L275.90,272.54 L273.64,271.04 L271.37,271.86 L269.10,272.64 L266.84,272.39 L264.57,272.56 L262.30,272.99 L260.03,271.70 L257.77,272.02 L255.50,273.43 L253.23,274.16 L250.96,272.79 L248.70,274.11 L246.43,273.14 L244.16,274.17 L241.90,273.61 L239.63,274.20 L237.36,275.41 L235.09,273.59 L232.83,274.42 L230.56,275.04 L228.29,275.08 L226.02,274.84 L223.76,275.20 L221.49,275.02 L219.22,275.60 L216.96,275.47 L214.69,276.04 L212.42,275.69 L210.15,276.08 L207.89,275.59 L205.62,275.08 L203.35,275.50 L201.08,275.90 L198.82,276.77 L196.55,276.33 L194.28,276.62 L192.02,276.60 L189.75,275.92 L187.48,276.88 L185.21,276.69 L182.95,277.00 L180.68,276.78 L178.41,277.03 L176.14,277.42 L173.88,277.16 L171.61,277.32 L169.34,277.58 L167.08,277.44 L164.81,277.83 L162.54,277.37 L160.27,277.78 L158.01,277.64 L155.74,277.81 L153.47,278.11 L151.20,277.97 L148.94,278.17 L146.67,278.19 L144.40,278.52 L142.14,278.66 L139.87,278.79 L137.60,278.49 L135.33,278.58 L133.07,279.00 L130.80,278.90 L128.53,279.10 L126.26,279.07 L124.00,279.35 L121.73,279.36 L119.46,279.06 L117.20,279.29 L114.93,279.53 L112.66,279.62 L110.39,279.59 L108.13,279.64 L105.86,279.73 L103.59,280.00 L101.32,280.01 L99.06,279.97 L96.79,280.14 L94.52,280.00 L92.26,280.28 L89.99,280.12 L87.72,280.33 L85.45,280.35 L83.19,280.44 L80.92,280.58 L78.65,280.61 L76.38,280.68 L74.12,280.70 L71.85,280.86 L69.58,280.82 L67.32,280.98 L65.05,281.17 L62.78,280.92 L60.51,281.30 L58.25,281.24 L55.98,281.47 L53.71,281.36 L51.44,281.58 L49.18,281.65 L46.91,281.72 L44.64,281.78 L42.38,281.85 L40.11,281.99 Z" fill="#17becf" fill-opacity="0.15" stroke="none"/>
<path d="M40.11,281.70 L42.38,281.72 L44.64,281.51 L46.91,281.28 L49.18,281.30 L51.44,281.51 L53.71,281.29 L55.98,281.02 L58.25,280.59 L60.51,280.76 L62.78,280.75 L65.05,280.37 L67.32,280.43 L69.58,280.04 L71.85,279.79 L74.12,279.87 L76.38,279.75 L78.65,279.58 L80.92,279.44 L83.19,279.18 L85.45,278.85 L87.72,278.87 L89.99,278.58 L92.26,278.44 L94.52,278.64 L96.79,278.37 L99.06,278.22 L101.32,278.10 L103.59,277.82 L105.86,278.34 L108.13,278.00 L110.39,277.28 L112.66,277.34 L114.93,277.75 L117.20,277.65 L119.46,276.93 L121.73,277.24 L124.00,277.16 L126.26,277.46 L128.53,276.90 L130.80,276.98 L133.07,276.56 L135.33,275.73 L137.60,276.04 L139.87,275.77 L142.14,275.90 L144.40,275.68 L146.67,275.45 L148.94,274.79 L151.20,275.21 L153.47,275.07 L155.74,274.54 L158.01,273.96 L160.27,274.58 L162.54,273.90 L164.81,274.36 L167.08,274.10 L169.34,274.29 L171.61,274.15 L173.88,273.75 L176.14,272.59 L178.41,271.92 L180.68,272.63 L182.95,273.11 L185.21,273.21 L187.48,273.13 L189.75,272.04 L192.02,272.49 L194.28,271.53 L196.55,272.36 L198.82,271.07 L201.08,271.92 L203.35,270.70 L205.62,270.47 L207.89,270.07 L210.15,271.01 L212.42,270.09 L214.69,269.76 L216.96,269.34 L219.22,269.25 L221.49,269.46 L223.76,267.87 L226.02,267.49 L228.29,267.07 L230.56,268.70 L232.83,267.14 L235.09,267.77 L237.36,268.34 L239.63,267.20 L241.90,265.74 L244.16,268.13 L246.43,267.04 L248.70,267.97 L250.96,266.63 L253.23,265.19 L255.50,266.06 L257.77,262.49 L260.03,263.15 L262.30,263.68 L264.57,265.78 L266.84,265.73 L269.10,262.81 L271.37,263.63 L273.64,259.25 L275.90,261.96 L278.17,263.09 L280.44,262.09 L282.71,260.55 L284.97,261.63 L287.24,258.51 L289.51,260.45 L291.78,262.10 L294.04,258.01 L296.31,257.79 L298.58,257.34 L298.58,272.50 L296.31,272.95 L294.04,268.86 L291.78,272.97 L289.51,270.39 L287.24,274.35 L284.97,272.93 L282.71,274.18 L280.44,272.51 L278.17,271.83 L275.90,272.72 L273.64,272.07 L271.37,274.67 L269.10,272.24 L266.84,273.27 L264.57,273.12 L262.30,271.89 L260.03,274.21 L257.77,271.17 L255.50,273.83 L253.23,273.80 L250.96,274.08 L248.70,274.56 L246.43,273.56 L244.16,275.21 L241.90,274.00 L239.63,273.88 L237.36,274.93 L235.09,273.92 L232.83,273.51 L230.56,276.24 L228.29,274.61 L226.02,275.54 L223.76,275.64 L221.49,274.94 L219.22,274.95 L216.96,277.31 L214.69,275.44 L212.42,275.36 L210.15,277.09 L207.89,275.06 L205.62,275.86 L203.35,275.56 L201.08,276.68 L198.82,276.18 L196.55,276.89 L194.28,277.07 L192.02,276.88 L189.75,276.35 L187.48,277.99 L185.21,277.08 L182.95,277.87 L180.68,276.83 L178.41,276.68 L176.14,277.29 L173.88,277.52 L171.61,277.79 L169.34,278.05 L167.08,277.56 L164.81,278.56 L162.54,277.75 L160.27,277.99 L158.01,277.38 L155.74,277.98 L153.47,278.29 L151.20,278.35 L148.94,278.13 L146.67,278.75 L144.40,278.53 L142.14,278.69 L139.87,278.68 L137.60,278.88 L135.33,278.76 L133.07,279.16 L130.80,279.51 L128.53,279.60 L126.26,279.96 L124.00,279.62 L121.73,279.80 L119.46,279.47 L117.20,279.99 L114.93,280.13 L112.66,279.72 L110.39,279.78 L108.13,280.20 L105.86,280.53 L103.59,280.04 L101.32,280.33 L99.06,280.36 L96.79,280.47 L94.52,280.71 L92.26,280.52 L89.99,280.68 L87.72,280.90 L85.45,280.89 L83.19,281.10 L80.92,281.35 L78.65,281.43 L76.38,281.58 L74.12,281.66 L71.85,281.62 L69.58,281.80 L67.32,282.12 L65.05,282.07 L62.78,282.40 L60.51,282.39 L58.25,282.26 L55.98,282.61 L53.71,282.83 L51.44,283.01 L49.18,282.84 L46.91,282.84 L44.64,283.03 L42.38,283.20 L40.11,283.20 Z" fill="#ff7f0e" fill-opacity="0.15" stroke="none"/>
<path d="M40.11,274.67 L42.38,274.86 L44.64,275.26 L46.91,275.39 L49.18,274.73 L51.44,275.91 L53.71,275.54 L55.98,275.23 L58.25,275.00 L60.51,275.83 L62.78,275.34 L65.05,275.86 L67.32,275.37 L69.58,275.22 L71.85,275.53 L74.12,275.43 L76.38,275.55 L78.65,276.09 L80.92,275.64 L83.19,275.72 L85.45,275.33 L87.72,275.73 L89.99,275.69 L92.26,276.03 L94.52,275.84 L96.79,275.97 L99.06,275.95 L101.32,276.11 L103.59,276.00 L105.86,276.03 L108.13,276.04 L110.39,275.99 L112.66,275.88 L114.93,276.08 L117.20,276.27 L119.46,275.57 L121.73,275.88 L124.00,275.85 L126.26,276.52 L128.53,275.73 L130.80,275.89 L133.07,275.51 L135.33,275.41 L137.60,275.23 L139.87,275.15 L142.14,275.18 L144.40,275.09 L146.67,274.77 L148.94,275.23 L151.20,274.27 L153.47,273.62 L155.74,273.88 L158.01,273.19 L160.27,273.56 L162.54,273.99 L164.81,273.72 L167.08,273.49 L169.34,274.15 L171.61,272.98 L173.88,273.09 L176.14,272.86 L178.41,272.57 L180.68,272.44 L182.95,272.12 L185.21,272.52 L187.48,272.15 L189.75,271.90 L192.02,271.63 L194.28,270.94 L196.55,271.67 L198.82,271.93 L201.08,272.59 L203.35,271.21 L205.62,269.78 L207.89,271.16 L210.15,270.59 L212.42,269.82 L214.69,271.68 L216.96,271.93 L219.22,270.08 L221.49,271.06 L223.76,270.31 L226.02,268.92 L228.29,269.07 L230.56,269.58 L232.83,267.27 L235.09,265.81 L237.36,268.00 L239.63,268.12 L241.90,266.15 L244.16,268.10 L246.43,266.36 L248.70,266.71 L250.96,266.15 L253.23,265.14 L255.50,262.89 L257.77,265.07 L260.03,266.20 L262.30,263.44 L264.57,263.81 L266.84,262.36 L269.10,263.01 L271.37,263.10 L273.64,261.45 L275.90,264.97 L278.17,263.34 L280.44,257.87 L282.71,259.96 L284.97,256.53 L287.24,255.57 L289.51,258.67 L291.78,260.29 L294.04,251.12 L296.31,246.22 L298.58,251.57 L298.58,261.04 L296.31,263.42 L294.04,264.24 L291.78,268.97 L289.51,266.62 L287.24,263.81 L284.97,265.99 L282.71,266.41 L280.44,267.84 L278.17,270.66 L275.90,271.04 L273.64,268.07 L271.37,268.38 L269.10,269.58 L266.84,270.36 L264.57,269.63 L262.30,270.92 L260.03,270.85 L257.77,270.69 L255.50,267.98 L253.23,271.78 L250.96,271.09 L248.70,272.64 L246.43,272.85 L244.16,272.58 L241.90,271.13 L239.63,272.49 L237.36,272.95 L235.09,271.13 L232.83,271.18 L230.56,273.86 L228.29,272.64 L226.02,274.05 L223.76,273.76 L221.49,274.48 L219.22,273.64 L216.96,275.07 L214.69,274.58 L212.42,273.55 L210.15,274.18 L207.89,274.23 L205.62,273.72 L203.35,274.67 L201.08,275.54 L198.82,274.87 L196.55,274.64 L194.28,274.35 L192.02,274.52 L189.75,274.61 L187.48,275.22 L185.21,275.19 L182.95,274.66 L180.68,275.17 L178.41,275.59 L176.14,275.28 L173.88,275.54 L171.61,275.85 L169.34,276.56 L167.08,275.73 L164.81,276.32 L162.54,276.11 L160.27,275.82 L158.01,275.68 L155.74,276.13 L153.47,275.91 L151.20,276.39 L148.94,277.12 L146.67,276.93 L144.40,276.96 L142.14,276.98 L139.87,276.97 L137.60,277.06 L135.33,277.26 L133.07,277.29 L130.80,277.72 L128.53,277.37 L126.26,278.16 L124.00,277.50 L121.73,277.48 L119.46,277.27 L117.20,277.79 L114.93,277.65 L112.66,277.47 L110.39,277.54 L108.13,277.66 L105.86,277.55 L103.59,277.52 L101.32,277.61 L99.06,277.43 L96.79,277.44 L94.52,277.32 L92.26,277.48 L89.99,277.14 L87.72,277.21 L85.45,276.81 L83.19,277.15 L80.92,277.10 L78.65,277.48 L76.38,276.96 L74.12,276.85 L71.85,276.94 L69.58,276.64 L67.32,276.77 L65.05,277.20 L62.78,276.73 L60.51,277.16 L58.25,276.40 L55.98,276.61 L53.71,276.88 L51.44,277.20 L49.18,276.14 L46.91,276.72 L44.64,276.61 L42.38,276.24 L40.11,276.07 Z" fill="#d62728" fill-opacity="0.15" stroke="none"/>
<path d="M40.11,271.69 L42.38,272.80 L44.64,272.48 L46.91,273.07 L49.18,273.14 L51.44,273.20 L53.71,273.16 L55.98,273.17 L58.25,272.65 L60.51,273.16 L62.78,272.73 L65.05,272.61 L67.32,272.61 L69.58,272.57 L71.85,273.01 L74.12,272.77 L76.38,272.24 L78.65,271.55 L80.92,271.99 L83.19,271.52 L85.45,270.78 L87.72,270.87 L89.99,270.15 L92.26,269.04 L94.52,268.74 L96.79,269.21 L99.06,268.54 L101.32,268.58 L103.59,268.14 L105.86,267.22 L108.13,266.79 L110.39,265.78 L112.66,264.55 L114.93,264.35 L117.20,263.12 L119.46,261.93 L121.73,260.36 L124.00,259.32 L126.26,258.49 L128.53,256.34 L130.80,255.35 L133.07,254.46 L135.33,253.21 L137.60,251.88 L139.87,248.85 L142.14,247.81 L144.40,246.06 L146.67,243.77 L148.94,242.04 L151.20,240.21 L153.47,236.54 L155.74,234.81 L158.01,232.39 L160.27,230.11 L162.54,228.70 L164.81,226.64 L167.08,224.56 L169.34,223.69 L171.61,221.69 L173.88,218.71 L176.14,218.69 L178.41,214.72 L180.68,214.96 L182.95,211.72 L185.21,209.17 L187.48,208.77 L189.75,207.76 L192.02,202.15 L194.28,202.81 L196.55,200.28 L198.82,197.00 L201.08,194.84 L203.35,192.34 L205.62,190.45 L207.89,188.49 L210.15,184.49 L212.42,183.47 L214.69,180.70 L216.96,177.89 L219.22,175.42 L221.49,172.66 L223.76,171.39 L226.02,167.42 L228.29,165.70 L230.56,163.80 L232.83,161.37 L235.09,159.00 L237.36,154.85 L239.63,153.98 L241.90,149.82 L244.16,148.16 L246.43,149.15 L248.70,144.61 L250.96,145.09 L253.23,141.15 L255.50,139.40 L257.77,136.17 L260.03,135.68 L262.30,131.26 L264.57,130.01 L266.84,129.13 L269.10,125.44 L271.37,123.33 L273.64,119.48 L275.90,116.34 L278.17,111.47 L280.44,111.03 L282.71,105.81 L284.97,104.96 L287.24,102.00 L289.51,101.58 L291.78,100.17 L294.04,100.34 L296.31,94.24 L298.58,91.82" fill="none" stroke="#d62728" stroke-width="1.15" stroke-linejoin="round"/>
<path d="M40.11,274.48 L42.38,275.36 L44.64,274.97 L46.91,275.40 L49.18,275.55 L51.44,275.51 L53.71,275.50 L55.98,274.50 L58.25,275.20 L60.51,275.39 L62.78,275.22 L65.05,275.07 L67.32,274.89 L69.58,275.08 L71.85,275.07 L74.12,274.18 L76.38,274.06 L78.65,273.90 L80.92,274.24 L83.19,273.68 L85.45,272.98 L87.72,273.07 L89.99,272.00 L92.26,271.88 L94.52,271.51 L96.79,270.92 L99.06,270.62 L101.32,270.29 L103.59,270.32 L105.86,270.15 L108.13,269.47 L110.39,269.25 L112.66,268.45 L114.93,268.22 L117.20,267.55 L119.46,266.55 L121.73,265.56 L124.00,265.08 L126.26,264.50 L128.53,263.05 L130.80,261.90 L133.07,261.74 L135.33,259.93 L137.60,259.66 L139.87,257.86 L142.14,256.74 L144.40,255.68 L146.67,253.84 L148.94,254.17 L151.20,251.84 L153.47,249.92 L155.74,248.60 L158.01,247.68 L160.27,245.52 L162.54,245.46 L164.81,242.69 L167.08,241.25 L169.34,240.09 L171.61,239.04 L173.88,237.87 L176.14,236.77 L178.41,234.48 L180.68,233.25 L182.95,232.15 L185.21,229.79 L187.48,229.40 L189.75,227.53 L192.02,227.29 L194.28,225.95 L196.55,223.71 L198.82,221.84 L201.08,220.87 L203.35,218.87 L205.62,216.96 L207.89,214.47 L210.15,212.90 L212.42,210.93 L214.69,209.46 L216.96,206.72 L219.22,203.74 L221.49,201.83 L223.76,199.24 L226.02,195.11 L228.29,193.53 L230.56,191.04 L232.83,190.45 L235.09,187.05 L237.36,185.81 L239.63,185.71 L241.90,182.70 L244.16,180.32 L246.43,180.68 L248.70,177.86 L250.96,178.75 L253.23,176.87 L255.50,174.37 L257.77,173.08 L260.03,171.91 L262.30,168.45 L264.57,168.95 L266.84,166.48 L269.10,164.38 L271.37,161.43 L273.64,161.13 L275.90,158.50 L278.17,156.14 L280.44,152.74 L282.71,152.06 L284.97,149.54 L287.24,148.41 L289.51,144.56 L291.78,143.37 L294.04,144.44 L296.31,140.98 L298.58,137.75" fill="none" stroke="#ff7f0e" stroke-width="1.15" stroke-linejoin="round"/>
<path d="M40.11,275.08 L42.38,274.81 L44.64,274.87 L46.91,274.94 L49.18,274.58 L51.44,274.69 L53.71,274.66 L55.98,274.21 L58.25,273.75 L60.51,274.55 L62.78,275.17 L65.05,274.54 L67.32,273.99 L69.58,273.07 L71.85,274.52 L74.12,274.27 L76.38,273.54 L78.65,273.36 L80.92,274.04 L83.19,273.38 L85.45,273.61 L87.72,273.44 L89.99,272.65 L92.26,273.15 L94.52,272.89 L96.79,272.23 L99.06,272.53 L101.32,272.87 L103.59,272.47 L105.86,271.93 L108.13,272.37 L110.39,271.89 L112.66,271.79 L114.93,271.34 L117.20,269.79 L119.46,269.37 L121.73,268.67 L124.00,267.61 L126.26,268.09 L128.53,267.23 L130.80,266.35 L133.07,266.21 L135.33,266.09 L137.60,264.96 L139.87,263.83 L142.14,263.85 L144.40,262.72 L146.67,262.43 L148.94,261.45 L151.20,260.93 L153.47,258.38 L155.74,257.77 L158.01,256.07 L160.27,255.99 L162.54,254.37 L164.81,254.38 L167.08,252.61 L169.34,251.68 L171.61,250.50 L173.88,249.42 L176.14,249.45 L178.41,246.23 L180.68,245.80 L182.95,244.04 L185.21,242.02 L187.48,242.08 L189.75,240.17 L192.02,237.04 L194.28,238.00 L196.55,235.82 L198.82,234.68 L201.08,232.28 L203.35,231.74 L205.62,231.17 L207.89,229.41 L210.15,228.70 L212.42,228.08 L214.69,227.53 L216.96,225.28 L219.22,224.70 L221.49,221.91 L223.76,222.09 L226.02,219.34 L228.29,216.87 L230.56,218.30 L232.83,216.90 L235.09,214.22 L237.36,211.56 L239.63,212.69 L241.90,211.45 L244.16,209.24 L246.43,207.68 L248.70,204.84 L250.96,205.33 L253.23,202.94 L255.50,201.48 L257.77,200.76 L260.03,200.44 L262.30,197.02 L264.57,196.21 L266.84,195.96 L269.10,193.74 L271.37,193.94 L273.64,192.84 L275.90,191.04 L278.17,190.39 L280.44,188.88 L282.71,186.61 L284.97,185.58 L287.24,186.64 L289.51,182.80 L291.78,183.47 L294.04,182.09 L296.31,177.59 L298.58,178.12" fill="none" stroke="#17becf" stroke-width="1.15" stroke-linejoin="round"/>
<path d="M40.11,270.60 L42.38,270.54 L44.64,271.43 L46.91,270.85 L49.18,270.46 L51.44,270.35 L53.71,270.28 L55.98,269.85 L58.25,269.81 L60.51,270.23 L62.78,270.55 L65.05,270.08 L67.32,270.18 L69.58,270.32 L71.85,270.18 L74.12,270.12 L76.38,269.42 L78.65,270.24 L80.92,269.56 L83.19,269.51 L85.45,269.15 L87.72,268.78 L89.99,269.14 L92.26,268.38 L94.52,268.62 L96.79,268.46 L99.06,268.53 L101.32,268.46 L103.59,268.04 L105.86,268.25 L108.13,268.04 L110.39,268.39 L112.66,267.45 L114.93,268.07 L117.20,267.31 L119.46,266.56 L121.73,266.24 L124.00,265.29 L126.26,265.72 L128.53,264.24 L130.80,264.60 L133.07,264.52 L135.33,264.36 L137.60,263.50 L139.87,262.73 L142.14,263.04 L144.40,262.89 L146.67,262.43 L148.94,262.36 L151.20,261.78 L153.47,261.49 L155.74,259.86 L158.01,260.00 L160.27,259.51 L162.54,259.14 L164.81,258.39 L167.08,256.66 L169.34,257.44 L171.61,256.27 L173.88,255.45 L176.14,254.81 L178.41,252.29 L180.68,252.67 L182.95,251.39 L185.21,250.32 L187.48,249.43 L189.75,248.04 L192.02,246.74 L194.28,246.38 L196.55,244.69 L198.82,243.60 L201.08,242.96 L203.35,242.29 L205.62,241.73 L207.89,239.04 L210.15,239.67 L212.42,237.81 L214.69,237.62 L216.96,236.93 L219.22,235.56 L221.49,234.61 L223.76,233.45 L226.02,232.81 L228.29,230.81 L230.56,230.39 L232.83,230.49 L235.09,227.95 L237.36,227.27 L239.63,228.54 L241.90,225.55 L244.16,224.56 L246.43,224.80 L248.70,223.44 L250.96,223.10 L253.23,223.21 L255.50,221.26 L257.77,219.88 L260.03,220.71 L262.30,218.26 L264.57,217.21 L266.84,218.77 L269.10,218.33 L271.37,217.66 L273.64,215.88 L275.90,214.80 L278.17,215.10 L280.44,214.49 L282.71,212.77 L284.97,210.34 L287.24,211.90 L289.51,210.05 L291.78,209.69 L294.04,209.52 L296.31,207.89 L298.58,205.83" fill="none" stroke="#9467bd" stroke-width="1.15" stroke-linejoin="round"/>
<path d="M40.11,279.19 L42.38,279.24 L44.64,279.29 L46.91,279.13 L49.18,279.36 L51.44,279.55 L53.71,279.28 L55.98,279.19 L58.25,279.37 L60.51,279.16 L62.78,279.23 L65.05,279.20 L67.32,279.35 L69.58,279.12 L71.85,278.99 L74.12,279.05 L76.38,279.15 L78.65,279.22 L80.92,279.32 L83.19,279.09 L85.45,279.19 L87.72,279.26 L89.99,279.22 L92.26,279.10 L94.52,279.31 L96.79,279.22 L99.06,279.00 L101.32,279.05 L103.59,279.08 L105.86,279.03 L108.13,279.00 L110.39,279.14 L112.66,278.71 L114.93,278.90 L117.20,278.80 L119.46,278.82 L121.73,278.90 L124.00,279.15 L126.26,278.79 L128.53,278.61 L130.80,278.33 L133.07,278.47 L135.33,278.64 L137.60,278.50 L139.87,278.24 L142.14,277.76 L144.40,278.17 L146.67,277.71 L148.94,277.57 L151.20,277.29 L153.47,277.17 L155.74,277.59 L158.01,276.82 L160.27,276.99 L162.54,276.68 L164.81,277.03 L167.08,276.65 L169.34,276.26 L171.61,276.50 L173.88,276.38 L176.14,276.22 L178.41,275.69 L180.68,276.27 L182.95,276.07 L185.21,275.52 L187.48,275.76 L189.75,274.92 L192.02,275.20 L194.28,274.74 L196.55,275.16 L198.82,275.29 L201.08,275.05 L203.35,275.32 L205.62,273.99 L207.89,275.12 L210.15,274.33 L212.42,274.02 L214.69,274.41 L216.96,274.61 L219.22,274.56 L221.49,274.91 L223.76,274.01 L226.02,273.79 L228.29,273.38 L230.56,273.92 L232.83,273.20 L235.09,273.49 L237.36,273.86 L239.63,273.79 L241.90,273.25 L244.16,274.46 L246.43,273.82 L248.70,273.60 L250.96,272.92 L253.23,273.20 L255.50,273.41 L257.77,271.72 L260.03,272.12 L262.30,272.09 L264.57,273.50 L266.84,273.95 L269.10,272.77 L271.37,272.58 L273.64,271.96 L275.90,273.26 L278.17,272.13 L280.44,273.03 L282.71,271.64 L284.97,271.73 L287.24,270.18 L289.51,269.86 L291.78,271.11 L294.04,270.54 L296.31,269.89 L298.58,269.66" fill="none" stroke="#9467bd" stroke-width="1.15" stroke-dasharray="3.5,1.6" stroke-linejoin="round"/>
<path d="M40.11,271.29 L42.38,271.37 L44.64,271.22 L46.91,271.48 L49.18,271.73 L51.44,271.92 L53.71,272.15 L55.98,272.46 L58.25,272.08 L60.51,272.95 L62.78,273.20 L65.05,273.52 L67.32,273.33 L69.58,273.00 L71.85,273.55 L74.12,273.97 L76.38,273.88 L78.65,274.49 L80.92,274.55 L83.19,274.84 L85.45,274.52 L87.72,275.20 L89.99,275.22 L92.26,275.59 L94.52,275.80 L96.79,276.07 L99.06,276.22 L101.32,276.31 L103.59,276.88 L105.86,277.58 L108.13,277.22 L110.39,277.33 L112.66,277.66 L114.93,277.71 L117.20,277.78 L119.46,277.97 L121.73,278.30 L124.00,278.11 L126.26,277.99 L128.53,277.84 L130.80,277.91 L133.07,277.79 L135.33,277.33 L137.60,277.80 L139.87,277.72 L142.14,277.57 L144.40,277.06 L146.67,277.07 L148.94,277.06 L151.20,276.66 L153.47,276.57 L155.74,276.44 L158.01,276.56 L160.27,276.58 L162.54,276.45 L164.81,276.54 L167.08,276.70 L169.34,276.61 L171.61,276.59 L173.88,276.62 L176.14,276.23 L178.41,275.78 L180.68,275.93 L182.95,276.26 L185.21,275.93 L187.48,275.83 L189.75,275.96 L192.02,275.72 L194.28,275.23 L196.55,275.14 L198.82,275.54 L201.08,275.49 L203.35,275.79 L205.62,275.07 L207.89,275.21 L210.15,274.84 L212.42,274.54 L214.69,275.52 L216.96,274.81 L219.22,274.11 L221.49,274.20 L223.76,273.91 L226.02,273.02 L228.29,273.30 L230.56,273.05 L232.83,272.35 L235.09,271.99 L237.36,273.25 L239.63,273.14 L241.90,272.49 L244.16,272.96 L246.43,272.56 L248.70,273.19 L250.96,272.82 L253.23,272.45 L255.50,271.23 L257.77,271.21 L260.03,271.37 L262.30,271.23 L264.57,272.10 L266.84,271.38 L269.10,270.93 L271.37,270.97 L273.64,271.10 L275.90,271.22 L278.17,271.02 L280.44,271.38 L282.71,271.91 L284.97,270.40 L287.24,268.91 L289.51,269.35 L291.78,270.39 L294.04,269.30 L296.31,269.25 L298.58,268.32" fill="none" stroke="#17becf" stroke-width="1.15" stroke-dasharray="3.5,1.6" stroke-linejoin="round"/>
<path d="M40.11,277.00 L42.38,277.09 L44.64,277.02 L46.91,277.55 L49.18,277.34 L51.44,277.72 L53.71,277.75 L55.98,277.50 L58.25,277.56 L60.51,278.25 L62.78,278.08 L65.05,278.09 L67.32,278.60 L69.58,278.17 L71.85,278.48 L74.12,278.54 L76.38,278.23 L78.65,278.73 L80.92,278.94 L83.19,279.08 L85.45,278.70 L87.72,278.77 L89.99,279.47 L92.26,278.87 L94.52,278.84 L96.79,279.77 L99.06,279.30 L101.32,278.96 L103.59,278.98 L105.86,278.84 L108.13,278.93 L110.39,278.33 L112.66,278.75 L114.93,278.35 L117.20,278.27 L119.46,278.11 L121.73,278.49 L124.00,278.07 L126.26,277.60 L128.53,277.99 L130.80,277.49 L133.07,277.32 L135.33,277.49 L137.60,277.30 L139.87,277.08 L142.14,277.01 L144.40,277.36 L146.67,276.24 L148.94,276.67 L151.20,276.33 L153.47,276.05 L155.74,276.09 L158.01,276.28 L160.27,275.97 L162.54,275.63 L164.81,275.50 L167.08,274.90 L169.34,275.86 L171.61,274.98 L173.88,275.44 L176.14,274.86 L178.41,275.43 L180.68,274.85 L182.95,275.52 L185.21,274.51 L187.48,275.51 L189.75,274.20 L192.02,274.67 L194.28,274.15 L196.55,274.15 L198.82,274.45 L201.08,274.54 L203.35,273.43 L205.62,272.97 L207.89,274.21 L210.15,273.23 L212.42,273.55 L214.69,273.54 L216.96,273.48 L219.22,272.92 L221.49,272.15 L223.76,273.48 L226.02,270.92 L228.29,273.09 L230.56,270.98 L232.83,270.72 L235.09,271.76 L237.36,271.71 L239.63,271.48 L241.90,271.25 L244.16,270.52 L246.43,270.19 L248.70,270.68 L250.96,269.58 L253.23,270.40 L255.50,269.92 L257.77,267.91 L260.03,269.22 L262.30,268.52 L264.57,269.05 L266.84,268.58 L269.10,268.60 L271.37,267.64 L273.64,267.88 L275.90,269.39 L278.17,270.45 L280.44,268.92 L282.71,268.76 L284.97,265.42 L287.24,266.58 L289.51,264.66 L291.78,266.43 L294.04,263.86 L296.31,265.53 L298.58,262.11" fill="none" stroke="#ff7f0e" stroke-width="1.15" stroke-dasharray="3.5,1.6" stroke-linejoin="round"/>
<path d="M40.11,275.20 L42.38,275.53 L44.64,275.50 L46.91,275.64 L49.18,275.81 L51.44,276.15 L53.71,276.39 L55.98,276.56 L58.25,275.58 L60.51,276.74 L62.78,276.32 L65.05,276.79 L67.32,276.61 L69.58,276.46 L71.85,276.31 L74.12,276.81 L76.38,277.03 L78.65,276.94 L80.92,276.82 L83.19,276.61 L85.45,276.11 L87.72,276.19 L89.99,277.10 L92.26,276.88 L94.52,277.08 L96.79,276.95 L99.06,276.50 L101.32,277.17 L103.59,276.60 L105.86,276.84 L108.13,276.98 L110.39,276.89 L112.66,276.40 L114.93,276.94 L117.20,277.01 L119.46,276.66 L121.73,276.66 L124.00,276.68 L126.26,277.33 L128.53,277.17 L130.80,276.56 L133.07,276.38 L135.33,276.31 L137.60,276.83 L139.87,276.12 L142.14,275.96 L144.40,276.47 L146.67,276.10 L148.94,275.88 L151.20,275.93 L153.47,275.12 L155.74,275.01 L158.01,275.08 L160.27,274.96 L162.54,274.24 L164.81,275.25 L167.08,274.47 L169.34,274.97 L171.61,274.16 L173.88,274.18 L176.14,274.22 L178.41,274.43 L180.68,273.78 L182.95,274.32 L185.21,274.34 L187.48,274.53 L189.75,273.31 L192.02,272.58 L194.28,272.83 L196.55,272.63 L198.82,273.12 L201.08,272.71 L203.35,272.09 L205.62,272.76 L207.89,272.57 L210.15,272.28 L212.42,271.98 L214.69,272.40 L216.96,273.75 L219.22,271.80 L221.49,272.36 L223.76,271.02 L226.02,271.01 L228.29,271.33 L230.56,270.84 L232.83,271.43 L235.09,270.03 L237.36,271.87 L239.63,269.78 L241.90,269.97 L244.16,271.29 L246.43,269.30 L248.70,270.41 L250.96,270.76 L253.23,269.90 L255.50,269.19 L257.77,268.13 L260.03,268.83 L262.30,267.70 L264.57,269.17 L266.84,266.83 L269.10,267.73 L271.37,268.51 L273.64,266.71 L275.90,268.66 L278.17,266.82 L280.44,270.31 L282.71,268.28 L284.97,264.70 L287.24,264.63 L289.51,266.57 L291.78,266.65 L294.04,264.43 L296.31,262.68 L298.58,265.86" fill="none" stroke="#d62728" stroke-width="1.15" stroke-dasharray="3.5,1.6" stroke-linejoin="round"/>
<path d="M40.11,279.05 L42.38,278.95 L44.64,278.84 L46.91,279.19 L49.18,278.80 L51.44,279.11 L53.71,278.86 L55.98,278.63 L58.25,278.76 L60.51,278.91 L62.78,278.79 L65.05,279.02 L67.32,278.95 L69.58,278.85 L71.85,278.90 L74.12,279.02 L76.38,279.00 L78.65,278.97 L80.92,278.93 L83.19,279.13 L85.45,278.82 L87.72,278.71 L89.99,279.12 L92.26,279.19 L94.52,278.86 L96.79,279.15 L99.06,278.94 L101.32,278.80 L103.59,278.86 L105.86,279.10 L108.13,279.00 L110.39,279.04 L112.66,278.93 L114.93,278.91 L117.20,278.74 L119.46,278.68 L121.73,278.62 L124.00,278.81 L126.26,278.61 L128.53,278.65 L130.80,278.53 L133.07,278.23 L135.33,278.11 L137.60,278.06 L139.87,277.91 L142.14,277.69 L144.40,277.73 L146.67,277.45 L148.94,277.22 L151.20,276.87 L153.47,276.54 L155.74,276.51 L158.01,276.29 L160.27,276.19 L162.54,276.23 L164.81,276.32 L167.08,276.24 L169.34,276.10 L171.61,275.85 L173.88,275.97 L176.14,275.23 L178.41,275.70 L180.68,275.47 L182.95,275.55 L185.21,275.48 L187.48,275.02 L189.75,274.91 L192.02,275.18 L194.28,275.19 L196.55,274.23 L198.82,274.28 L201.08,274.78 L203.35,274.41 L205.62,273.76 L207.89,274.10 L210.15,273.76 L212.42,273.45 L214.69,273.83 L216.96,272.65 L219.22,273.05 L221.49,272.35 L223.76,272.92 L226.02,271.83 L228.29,271.64 L230.56,272.50 L232.83,270.95 L235.09,270.65 L237.36,271.65 L239.63,271.90 L241.90,270.89 L244.16,271.29 L246.43,271.21 L248.70,271.15 L250.96,271.09 L253.23,271.96 L255.50,270.05 L257.77,269.38 L260.03,268.87 L262.30,269.93 L264.57,270.35 L266.84,268.97 L269.10,269.65 L271.37,269.10 L273.64,269.94 L275.90,269.80 L278.17,269.25 L280.44,270.13 L282.71,268.10 L284.97,268.97 L287.24,267.76 L289.51,267.60 L291.78,269.55 L294.04,266.98 L296.31,267.37 L298.58,265.76" fill="none" stroke="#9467bd" stroke-width="1.15" stroke-dasharray="1.0,1.3" stroke-linejoin="round"/>
<path d="M40.11,281.19 L42.38,281.04 L44.64,280.97 L46.91,280.91 L49.18,280.83 L51.44,280.77 L53.71,280.53 L55.98,280.65 L58.25,280.41 L60.51,280.48 L62.78,280.07 L65.05,280.34 L67.32,280.14 L69.58,279.96 L71.85,280.02 L74.12,279.85 L76.38,279.83 L78.65,279.76 L80.92,279.74 L83.19,279.59 L85.45,279.48 L87.72,279.47 L89.99,279.23 L92.26,279.40 L94.52,279.11 L96.79,279.28 L99.06,279.10 L101.32,279.11 L103.59,279.12 L105.86,278.85 L108.13,278.72 L110.39,278.68 L112.66,278.73 L114.93,278.64 L117.20,278.37 L119.46,278.07 L121.73,278.43 L124.00,278.46 L126.26,278.14 L128.53,278.15 L130.80,277.96 L133.07,278.02 L135.33,277.58 L137.60,277.50 L139.87,277.80 L142.14,277.70 L144.40,277.45 L146.67,277.18 L148.94,277.14 L151.20,276.96 L153.47,277.08 L155.74,276.60 L158.01,276.48 L160.27,276.69 L162.54,276.33 L164.81,276.82 L167.08,276.35 L169.34,276.53 L171.61,276.26 L173.88,275.97 L176.14,276.31 L178.41,275.81 L180.68,275.61 L182.95,275.83 L185.21,275.06 L187.48,275.75 L189.75,274.51 L192.02,275.22 L194.28,275.35 L196.55,275.12 L198.82,275.42 L201.08,274.63 L203.35,273.97 L205.62,273.56 L207.89,274.33 L210.15,274.52 L212.42,274.45 L214.69,274.57 L216.96,273.96 L219.22,274.30 L221.49,273.56 L223.76,273.57 L226.02,272.95 L228.29,273.56 L230.56,273.57 L232.83,272.96 L235.09,272.04 L237.36,273.60 L239.63,272.70 L241.90,271.87 L244.16,272.09 L246.43,270.95 L248.70,272.14 L250.96,270.89 L253.23,272.36 L255.50,271.10 L257.77,270.01 L260.03,269.70 L262.30,271.08 L264.57,270.71 L266.84,269.74 L269.10,270.68 L271.37,269.64 L273.64,268.52 L275.90,270.20 L278.17,269.35 L280.44,270.87 L282.71,270.62 L284.97,268.79 L287.24,269.50 L289.51,267.00 L291.78,269.28 L294.04,267.65 L296.31,268.83 L298.58,266.56" fill="none" stroke="#17becf" stroke-width="1.15" stroke-dasharray="1.0,1.3" stroke-linejoin="round"/>
<path d="M40.11,282.45 L42.38,282.46 L44.64,282.27 L46.91,282.06 L49.18,282.07 L51.44,282.26 L53.71,282.06 L55.98,281.82 L58.25,281.43 L60.51,281.57 L62.78,281.58 L65.05,281.22 L67.32,281.28 L69.58,280.92 L71.85,280.70 L74.12,280.76 L76.38,280.66 L78.65,280.50 L80.92,280.40 L83.19,280.14 L85.45,279.87 L87.72,279.89 L89.99,279.63 L92.26,279.48 L94.52,279.67 L96.79,279.42 L99.06,279.29 L101.32,279.21 L103.59,278.93 L105.86,279.44 L108.13,279.10 L110.39,278.53 L112.66,278.53 L114.93,278.94 L117.20,278.82 L119.46,278.20 L121.73,278.52 L124.00,278.39 L126.26,278.71 L128.53,278.25 L130.80,278.25 L133.07,277.86 L135.33,277.25 L137.60,277.46 L139.87,277.23 L142.14,277.30 L144.40,277.10 L146.67,277.10 L148.94,276.46 L151.20,276.78 L153.47,276.68 L155.74,276.26 L158.01,275.67 L160.27,276.29 L162.54,275.83 L164.81,276.46 L167.08,275.83 L169.34,276.17 L171.61,275.97 L173.88,275.64 L176.14,274.94 L178.41,274.30 L180.68,274.73 L182.95,275.49 L185.21,275.14 L187.48,275.56 L189.75,274.19 L192.02,274.69 L194.28,274.30 L196.55,274.62 L198.82,273.63 L201.08,274.30 L203.35,273.13 L205.62,273.17 L207.89,272.56 L210.15,274.05 L212.42,272.73 L214.69,272.60 L216.96,273.33 L219.22,272.10 L221.49,272.20 L223.76,271.75 L226.02,271.51 L228.29,270.84 L230.56,272.47 L232.83,270.32 L235.09,270.84 L237.36,271.63 L239.63,270.54 L241.90,269.87 L244.16,271.67 L246.43,270.30 L248.70,271.26 L250.96,270.35 L253.23,269.50 L255.50,269.95 L257.77,266.83 L260.03,268.68 L262.30,267.79 L264.57,269.45 L266.84,269.50 L269.10,267.52 L271.37,269.15 L273.64,265.66 L275.90,267.34 L278.17,267.46 L280.44,267.30 L282.71,267.37 L284.97,267.28 L287.24,266.43 L289.51,265.42 L291.78,267.54 L294.04,263.43 L296.31,265.37 L298.58,264.92" fill="none" stroke="#ff7f0e" stroke-width="1.15" stroke-dasharray="1.0,1.3" stroke-linejoin="round"/>
<path d="M40.11,275.37 L42.38,275.55 L44.64,275.94 L46.91,276.05 L49.18,275.44 L51.44,276.55 L53.71,276.21 L55.98,275.92 L58.25,275.70 L60.51,276.50 L62.78,276.03 L65.05,276.53 L67.32,276.07 L69.58,275.93 L71.85,276.23 L74.12,276.14 L76.38,276.26 L78.65,276.78 L80.92,276.37 L83.19,276.43 L85.45,276.07 L87.72,276.47 L89.99,276.42 L92.26,276.75 L94.52,276.58 L96.79,276.71 L99.06,276.69 L101.32,276.86 L103.59,276.76 L105.86,276.79 L108.13,276.85 L110.39,276.77 L112.66,276.67 L114.93,276.86 L117.20,277.03 L119.46,276.42 L121.73,276.68 L124.00,276.67 L126.26,277.34 L128.53,276.55 L130.80,276.80 L133.07,276.40 L135.33,276.34 L137.60,276.14 L139.87,276.06 L142.14,276.08 L144.40,276.03 L146.67,275.85 L148.94,276.18 L151.20,275.33 L153.47,274.76 L155.74,275.01 L158.01,274.44 L160.27,274.69 L162.54,275.05 L164.81,275.02 L167.08,274.61 L169.34,275.35 L171.61,274.41 L173.88,274.31 L176.14,274.07 L178.41,274.08 L180.68,273.80 L182.95,273.39 L185.21,273.86 L187.48,273.68 L189.75,273.26 L192.02,273.08 L194.28,272.64 L196.55,273.15 L198.82,273.40 L201.08,274.07 L203.35,272.94 L205.62,271.75 L207.89,272.69 L210.15,272.38 L212.42,271.69 L214.69,273.13 L216.96,273.50 L219.22,271.86 L221.49,272.77 L223.76,272.04 L226.02,271.49 L228.29,270.85 L230.56,271.72 L232.83,269.22 L235.09,268.47 L237.36,270.48 L239.63,270.31 L241.90,268.64 L244.16,270.34 L246.43,269.60 L248.70,269.68 L250.96,268.62 L253.23,268.46 L255.50,265.43 L257.77,267.88 L260.03,268.53 L262.30,267.18 L264.57,266.72 L266.84,266.36 L269.10,266.29 L271.37,265.74 L273.64,264.76 L275.90,268.00 L278.17,267.00 L280.44,262.85 L282.71,263.19 L284.97,261.26 L287.24,259.69 L289.51,262.65 L291.78,264.63 L294.04,257.68 L296.31,254.82 L298.58,256.30" fill="none" stroke="#d62728" stroke-width="1.15" stroke-dasharray="1.0,1.3" stroke-linejoin="round"/>
</g>
<rect x="27.5" y="12.35" width="283.90" height="276.95" fill="none" stroke="#505050" stroke-width="1"/>
<line x1="37.70" y1="289.3" x2="37.70" y2="291.8" stroke="#505050" stroke-width="0.8"/>
<text x="32.05" y="300.2" font-size="9.5" textLength="11.3" lengthAdjust="spacingAndGlyphs">0.0</text>
<line x1="77.84" y1="289.3" x2="77.84" y2="291.8" stroke="#505050" stroke-width="0.8"/>
<text x="72.19" y="300.2" font-size="9.5" textLength="11.3" lengthAdjust="spacingAndGlyphs">0.5</text>
<line x1="117.97" y1="289.3" x2="117.97" y2="291.8" stroke="#505050" stroke-width="0.8"/>
<text x="112.32" y="300.2" font-size="9.5" textLength="11.3" lengthAdjust="spacingAndGlyphs">1.0</text>
<line x1="158.11" y1="289.3" x2="158.11" y2="291.8" stroke="#505050" stroke-width="0.8"/>
<text x="152.46" y="300.2" font-size="9.5" textLength="11.3" lengthAdjust="spacingAndGlyphs">1.5</text>
<line x1="198.24" y1="289.3" x2="198.24" y2="291.8" stroke="#505050" stroke-width="0.8"/>
<text x="192.59" y="300.2" font-size="9.5" textLength="11.3" lengthAdjust="spacingAndGlyphs">2.0</text>
<line x1="238.38" y1="289.3" x2="238.38" y2="291.8" stroke="#505050" stroke-width="0.8"/>
<text x="232.72" y="300.2" font-size="9.5" textLength="11.3" lengthAdjust="spacingAndGlyphs">2.5</text>
<line x1="278.51" y1="289.3" x2="278.51" y2="291.8" stroke="#505050" stroke-width="0.8"/>
<text x="272.86" y="300.2" font-size="9.5" textLength="11.3" lengthAdjust="spacingAndGlyphs">3.0</text>
<line x1="25.0" y1="289.30" x2="27.5" y2="289.30" stroke="#505050" stroke-width="0.8"/>
<text x="11.9" y="292.80" font-size="9.5" textLength="11.3" lengthAdjust="spacingAndGlyphs">0.0</text>
<line x1="25.0" y1="243.12" x2="27.5" y2="243.12" stroke="#505050" stroke-width="0.8"/>
<text x="11.9" y="246.62" font-size="9.5" textLength="11.3" lengthAdjust="spacingAndGlyphs">0.5</text>
<line x1="25.0" y1="196.93" x2="27.5" y2="196.93" stroke="#505050" stroke-width="0.8"/>
<text x="11.9" y="200.43" font-size="9.5" textLength="11.3" lengthAdjust="spacingAndGlyphs">1.0</text>
<line x1="25.0" y1="150.75" x2="27.5" y2="150.75" stroke="#505050" stroke-width="0.8"/>
<text x="11.9" y="154.25" font-size="9.5" textLength="11.3" lengthAdjust="spacingAndGlyphs">1.5</text>
<line x1="25.0" y1="104.56" x2="27.5" y2="104.56" stroke="#505050" stroke-width="0.8"/>
<text x="11.9" y="108.06" font-size="9.5" textLength="11.3" lengthAdjust="spacingAndGlyphs">2.0</text>
<line x1="25.0" y1="58.38" x2="27.5" y2="58.38" stroke="#505050" stroke-width="0.8"/>
<text x="11.9" y="61.88" font-size="9.5" textLength="11.3" lengthAdjust="spacingAndGlyphs">2.5</text>
<line x1="25.0" y1="12.19" x2="27.5" y2="12.19" stroke="#505050" stroke-width="0.8"/>
<text x="11.9" y="15.69" font-size="9.5" textLength="11.3" lengthAdjust="spacingAndGlyphs">3.0</text>
<text transform="translate(8.8,150.8) rotate(-90)" font-size="10.2" text-anchor="middle">RMS Reconstruction Error (rad)</text>
<text x="169.4" y="311.6" font-size="10.2" text-anchor="middle">Wavefront RMS (rad)</text>
<text x="91.5" y="8.5" font-size="11.9" textLength="156.3" lengthAdjust="spacingAndGlyphs">Wavefront Reconstruction Error</text>
<rect x="36.6" y="17.8" width="269.8" height="73.6" rx="2" fill="#fff" fill-opacity="0.8" stroke="#e0e0e0" stroke-width="0.8"/>
<text x="68.7" y="29.3" font-size="10.2">PyWFS modulation radius</text>
<line x1="40.0" y1="39.7" x2="61.3" y2="39.7" stroke="#9467bd" stroke-width="1.4"/>
<text x="68.7" y="43.5" font-size="10.2">100 mas</text>
<line x1="40.0" y1="53.9" x2="61.3" y2="53.9" stroke="#17becf" stroke-width="1.4"/>
<text x="68.7" y="57.699999999999996" font-size="10.2">75 mas</text>
<line x1="40.0" y1="68.1" x2="61.3" y2="68.1" stroke="#ff7f0e" stroke-width="1.4"/>
<text x="68.7" y="71.89999999999999" font-size="10.2">50 mas</text>
<line x1="40.0" y1="82.3" x2="61.3" y2="82.3" stroke="#d62728" stroke-width="1.4"/>
<text x="68.7" y="86.1" font-size="10.2">25 mas</text>
<text x="226.0" y="29.3" font-size="10.2">Model</text>
<line x1="197.2" y1="39.7" x2="218.0" y2="39.7" stroke="#000" stroke-width="1.1"/>
<text x="226.0" y="43.5" font-size="10.2">MVM</text>
<line x1="197.2" y1="53.9" x2="218.0" y2="53.9" stroke="#000" stroke-width="1.1" stroke-dasharray="3.5,1.6"/>
<text x="226.0" y="57.699999999999996" font-size="10.2">Zernike-basis NN</text>
<line x1="197.2" y1="68.1" x2="218.0" y2="68.1" stroke="#000" stroke-width="1.1" stroke-dasharray="1.0,1.3"/>
<text x="226.0" y="71.89999999999999" font-size="10.2">Actuator-basis NN</text>
<text x="111.8" y="334.9" font-size="12.2" stroke-width="0.05" textLength="88.5" lengthAdjust="spacingAndGlyphs">(a) Linear scale</text>
<clipPath id="clipR"><rect x="353.6" y="12.35" width="283.69999999999993" height="276.95"/></clipPath>
<line x1="364.00" y1="12.35" x2="364.00" y2="289.3" stroke="#d5d5d5" stroke-width="1"/>
<line x1="404.10" y1="12.35" x2="404.10" y2="289.3" stroke="#d5d5d5" stroke-width="1"/>
<line x1="444.20" y1="12.35" x2="444.20" y2="289.3" stroke="#d5d5d5" stroke-width="1"/>
<line x1="484.30" y1="12.35" x2="484.30" y2="289.3" stroke="#d5d5d5" stroke-width="1"/>
<line x1="524.40" y1="12.35" x2="524.40" y2="289.3" stroke="#d5d5d5" stroke-width="1"/>
<line x1="564.50" y1="12.35" x2="564.50" y2="289.3" stroke="#d5d5d5" stroke-width="1"/>
<line x1="604.60" y1="12.35" x2="604.60" y2="289.3" stroke="#d5d5d5" stroke-width="1"/>
<line x1="353.6" y1="258.30" x2="637.3" y2="258.30" stroke="#d5d5d5" stroke-width="1"/>
<line x1="353.6" y1="120.20" x2="637.3" y2="120.20" stroke="#d5d5d5" stroke-width="1"/>
<g clip-path="url(#clipR)">
<path d="M366.41,217.15 L368.67,221.31 L370.94,220.51 L373.20,222.62 L375.47,222.28 L377.73,222.58 L380.00,223.02 L382.26,222.43 L384.53,221.09 L386.79,222.47 L389.06,221.28 L391.32,220.39 L393.59,220.39 L395.85,220.74 L398.12,222.18 L400.39,221.11 L402.65,219.40 L404.92,216.79 L407.18,217.93 L409.45,217.30 L411.71,214.99 L413.98,215.27 L416.24,212.91 L418.51,209.29 L420.77,208.70 L423.04,209.60 L425.30,207.67 L427.57,207.30 L429.83,206.90 L432.10,204.51 L434.36,203.20 L436.63,200.23 L438.90,197.62 L441.16,197.35 L443.43,194.38 L445.69,191.49 L447.96,188.29 L450.22,186.25 L452.49,184.45 L454.75,180.84 L457.02,178.67 L459.28,177.28 L461.55,175.41 L463.81,173.28 L466.08,168.52 L468.34,166.83 L470.61,164.71 L472.88,161.61 L475.14,159.34 L477.41,157.22 L479.67,152.81 L481.94,150.71 L484.20,148.38 L486.47,145.98 L488.73,144.59 L491.00,142.45 L493.26,140.63 L495.53,139.96 L497.79,138.03 L500.06,135.54 L502.32,135.35 L504.59,132.19 L506.85,132.50 L509.12,129.85 L511.39,127.93 L513.65,127.57 L515.92,126.79 L518.18,122.81 L520.45,123.42 L522.71,121.70 L524.98,119.24 L527.24,118.20 L529.51,115.99 L531.77,115.23 L534.04,114.27 L536.30,112.00 L538.57,111.14 L540.83,109.67 L543.10,108.23 L545.36,107.00 L547.63,105.53 L549.90,104.72 L552.16,102.86 L554.43,101.80 L556.69,101.04 L558.96,99.87 L561.22,98.81 L563.49,96.75 L565.75,96.36 L568.02,94.78 L570.28,94.10 L572.55,94.53 L574.81,92.66 L577.08,92.66 L579.34,90.99 L581.61,90.36 L583.87,89.28 L586.14,89.08 L588.41,87.27 L590.67,86.83 L592.94,86.44 L595.20,85.05 L597.47,84.43 L599.73,83.13 L602.00,81.99 L604.26,80.37 L606.53,80.06 L608.79,78.42 L611.06,78.16 L613.32,76.92 L615.59,77.01 L617.85,76.42 L620.12,76.73 L622.38,74.67 L624.65,73.84 L624.65,75.43 L622.38,76.07 L620.12,77.83 L617.85,78.03 L615.59,78.33 L613.32,78.70 L611.06,79.36 L608.79,79.65 L606.53,81.48 L604.26,81.47 L602.00,83.17 L599.73,84.24 L597.47,85.68 L595.20,86.60 L592.94,87.94 L590.67,88.21 L588.41,88.72 L586.14,90.31 L583.87,90.49 L581.61,91.97 L579.34,92.75 L577.08,94.31 L574.81,93.91 L572.55,95.87 L570.28,95.45 L568.02,96.19 L565.75,98.25 L563.49,98.64 L561.22,100.33 L558.96,101.47 L556.69,102.60 L554.43,103.68 L552.16,104.30 L549.90,106.41 L547.63,106.90 L545.36,108.30 L543.10,109.70 L540.83,111.33 L538.57,112.95 L536.30,113.26 L534.04,115.65 L531.77,117.05 L529.51,118.62 L527.24,119.53 L524.98,121.26 L522.71,123.14 L520.45,124.88 L518.18,124.59 L515.92,128.58 L513.65,129.30 L511.39,129.53 L509.12,131.49 L506.85,133.97 L504.59,133.88 L502.32,137.29 L500.06,137.13 L497.79,139.81 L495.53,141.49 L493.26,142.42 L491.00,144.52 L488.73,146.39 L486.47,147.81 L484.20,150.12 L481.94,153.02 L479.67,154.78 L477.41,159.03 L475.14,161.46 L472.88,163.66 L470.61,166.74 L468.34,169.61 L466.08,170.95 L463.81,175.54 L461.55,177.73 L459.28,180.10 L457.02,181.84 L454.75,183.18 L452.49,187.68 L450.22,189.15 L447.96,191.37 L445.69,194.86 L443.43,197.30 L441.16,200.11 L438.90,200.80 L436.63,204.35 L434.36,206.61 L432.10,207.63 L429.83,210.32 L427.57,212.48 L425.30,211.86 L423.04,213.87 L420.77,211.96 L418.51,213.15 L416.24,216.28 L413.98,218.53 L411.71,218.23 L409.45,220.80 L407.18,223.49 L404.92,221.58 L402.65,223.70 L400.39,225.74 L398.12,226.41 L395.85,224.71 L393.59,225.33 L391.32,225.32 L389.06,225.29 L386.79,227.31 L384.53,224.90 L382.26,227.42 L380.00,226.67 L377.73,227.44 L375.47,227.36 L373.20,226.41 L370.94,224.24 L368.67,225.79 L366.41,222.12 Z" fill="#d62728" fill-opacity="0.2" stroke="none"/>
<path d="M366.41,227.75 L368.67,230.36 L370.94,229.74 L373.20,231.21 L375.47,232.16 L377.73,231.91 L380.00,232.09 L382.26,227.75 L384.53,230.69 L386.79,231.55 L389.06,230.29 L391.32,230.16 L393.59,229.57 L395.85,229.77 L398.12,230.15 L400.39,226.75 L402.65,226.08 L404.92,225.37 L407.18,225.96 L409.45,224.69 L411.71,221.41 L413.98,222.29 L416.24,218.92 L418.51,218.49 L420.77,217.18 L423.04,215.40 L425.30,214.02 L427.57,213.09 L429.83,213.40 L432.10,212.76 L434.36,210.92 L436.63,210.25 L438.90,207.74 L441.16,207.07 L443.43,205.51 L445.69,202.83 L447.96,200.17 L450.22,198.90 L452.49,197.75 L454.75,193.87 L457.02,191.81 L459.28,191.27 L461.55,187.64 L463.81,186.93 L466.08,183.46 L468.34,181.43 L470.61,179.53 L472.88,176.10 L475.14,177.05 L477.41,173.12 L479.67,170.31 L481.94,168.09 L484.20,166.72 L486.47,163.91 L488.73,163.75 L491.00,160.14 L493.26,158.35 L495.53,156.82 L497.79,155.28 L500.06,154.17 L502.32,152.84 L504.59,150.05 L506.85,149.02 L509.12,148.00 L511.39,145.65 L513.65,145.10 L515.92,143.54 L518.18,143.18 L520.45,141.91 L522.71,139.91 L524.98,137.97 L527.24,137.29 L529.51,135.46 L531.77,134.14 L534.04,132.01 L536.30,130.55 L538.57,128.99 L540.83,128.02 L543.10,125.99 L545.36,124.05 L547.63,122.74 L549.90,120.88 L552.16,118.34 L554.43,117.12 L556.69,115.63 L558.96,115.31 L561.22,113.33 L563.49,112.61 L565.75,112.56 L568.02,110.70 L570.28,109.58 L572.55,109.52 L574.81,108.21 L577.08,108.73 L579.34,107.57 L581.61,106.42 L583.87,105.73 L586.14,105.14 L588.41,103.42 L590.67,103.63 L592.94,102.48 L595.20,101.30 L597.47,100.05 L599.73,99.79 L602.00,98.75 L604.26,97.56 L606.53,96.15 L608.79,95.77 L611.06,94.75 L613.32,94.29 L615.59,92.63 L617.85,92.16 L620.12,92.55 L622.38,90.84 L624.65,89.73 L624.65,91.29 L622.38,92.77 L620.12,93.88 L617.85,93.39 L615.59,93.90 L613.32,95.48 L611.06,95.98 L608.79,97.15 L606.53,97.36 L604.26,98.98 L602.00,99.93 L599.73,101.33 L597.47,101.35 L595.20,102.89 L592.94,103.74 L590.67,105.04 L588.41,104.75 L586.14,106.51 L583.87,107.13 L581.61,107.77 L579.34,109.27 L577.08,110.13 L574.81,109.68 L572.55,111.46 L570.28,110.99 L568.02,112.53 L565.75,114.10 L563.49,114.16 L561.22,114.90 L558.96,116.96 L556.69,117.37 L554.43,118.96 L552.16,119.72 L549.90,122.57 L547.63,124.21 L545.36,125.54 L543.10,127.87 L540.83,129.87 L538.57,131.13 L536.30,132.64 L534.04,133.67 L531.77,135.59 L529.51,137.50 L527.24,139.11 L524.98,140.14 L522.71,141.57 L520.45,143.75 L518.18,145.03 L515.92,145.13 L513.65,147.28 L511.39,147.50 L509.12,150.01 L506.85,151.31 L504.59,152.98 L502.32,155.28 L500.06,156.49 L497.79,158.15 L495.53,159.14 L493.26,160.47 L491.00,162.32 L488.73,166.07 L486.47,166.06 L484.20,169.34 L481.94,170.63 L479.67,172.38 L477.41,175.57 L475.14,179.34 L472.88,179.18 L470.61,182.14 L468.34,184.09 L466.08,186.26 L463.81,189.83 L461.55,190.24 L459.28,194.26 L457.02,194.41 L454.75,197.50 L452.49,200.41 L450.22,202.10 L447.96,203.23 L445.69,205.69 L443.43,208.39 L441.16,210.60 L438.90,211.27 L436.63,213.42 L434.36,214.11 L432.10,216.47 L429.83,216.84 L427.57,216.98 L425.30,218.20 L423.04,218.70 L420.77,220.88 L418.51,222.05 L416.24,222.48 L413.98,226.77 L411.71,227.06 L409.45,229.01 L407.18,232.20 L404.92,230.01 L402.65,230.55 L400.39,230.81 L398.12,234.68 L395.85,235.21 L393.59,233.73 L391.32,234.67 L389.06,235.88 L386.79,236.01 L384.53,235.30 L382.26,232.38 L380.00,236.47 L377.73,236.68 L375.47,236.79 L373.20,236.53 L370.94,234.31 L368.67,237.03 L366.41,232.26 Z" fill="#ff7f0e" fill-opacity="0.2" stroke="none"/>
<path d="M366.41,227.86 L368.67,227.01 L370.94,226.64 L373.20,227.26 L375.47,224.40 L377.73,225.69 L380.00,226.79 L382.26,224.33 L384.53,221.95 L386.79,225.76 L389.06,228.77 L391.32,225.67 L393.59,224.17 L395.85,220.88 L398.12,224.84 L400.39,225.05 L402.65,222.14 L404.92,219.93 L407.18,224.22 L409.45,219.74 L411.71,222.83 L413.98,222.35 L416.24,219.62 L418.51,220.63 L420.77,219.93 L423.04,217.99 L425.30,217.90 L427.57,219.40 L429.83,218.83 L432.10,216.61 L434.36,217.39 L436.63,214.92 L438.90,216.64 L441.16,214.91 L443.43,210.47 L445.69,209.16 L447.96,206.60 L450.22,203.37 L452.49,204.90 L454.75,202.84 L457.02,200.82 L459.28,200.69 L461.55,199.93 L463.81,196.68 L466.08,194.64 L468.34,194.63 L470.61,191.79 L472.88,191.48 L475.14,188.72 L477.41,188.45 L479.67,183.59 L481.94,182.52 L484.20,179.00 L486.47,178.90 L488.73,175.79 L491.00,176.40 L493.26,173.28 L495.53,172.08 L497.79,170.32 L500.06,167.65 L502.32,168.15 L504.59,164.11 L506.85,162.70 L509.12,160.72 L511.39,158.67 L513.65,158.54 L515.92,156.44 L518.18,152.74 L520.45,153.60 L522.71,150.61 L524.98,149.86 L527.24,147.56 L529.51,147.06 L531.77,146.20 L534.04,144.64 L536.30,142.98 L538.57,143.09 L540.83,142.47 L543.10,140.14 L545.36,140.03 L547.63,137.11 L549.90,137.72 L552.16,135.08 L554.43,132.68 L556.69,134.47 L558.96,133.18 L561.22,131.00 L563.49,128.36 L565.75,129.70 L568.02,128.79 L570.28,127.31 L572.55,125.42 L574.81,124.28 L577.08,124.15 L579.34,122.77 L581.61,121.92 L583.87,121.34 L586.14,120.92 L588.41,118.84 L590.67,118.17 L592.94,118.29 L595.20,116.48 L597.47,116.38 L599.73,115.56 L602.00,115.14 L604.26,114.29 L606.53,113.95 L608.79,112.44 L611.06,112.03 L613.32,111.96 L615.59,109.86 L617.85,110.64 L620.12,109.99 L622.38,107.41 L624.65,107.82 L624.65,110.37 L622.38,110.22 L620.12,112.56 L617.85,113.48 L615.59,113.52 L613.32,115.83 L611.06,114.49 L608.79,115.30 L606.53,116.46 L604.26,117.96 L602.00,117.88 L599.73,119.72 L597.47,120.25 L595.20,119.90 L592.94,120.89 L590.67,121.34 L588.41,121.72 L586.14,124.17 L583.87,124.18 L581.61,124.57 L579.34,125.73 L577.08,127.74 L574.81,126.88 L572.55,129.90 L570.28,130.29 L568.02,132.18 L565.75,133.19 L563.49,132.81 L561.22,134.31 L558.96,136.49 L556.69,137.54 L554.43,136.96 L552.16,138.71 L549.90,140.86 L547.63,141.19 L545.36,143.30 L543.10,144.32 L540.83,146.26 L538.57,146.71 L536.30,148.09 L534.04,147.77 L531.77,149.82 L529.51,150.12 L527.24,150.74 L524.98,153.63 L522.71,155.44 L520.45,157.40 L518.18,156.02 L515.92,159.75 L513.65,162.40 L511.39,162.11 L509.12,165.34 L506.85,168.14 L504.59,167.88 L502.32,173.20 L500.06,173.66 L497.79,174.18 L495.53,176.14 L493.26,177.96 L491.00,180.75 L488.73,181.39 L486.47,183.94 L484.20,184.15 L481.94,186.88 L479.67,188.17 L477.41,193.67 L475.14,195.68 L472.88,197.15 L470.61,198.20 L468.34,200.57 L466.08,200.45 L463.81,203.93 L461.55,206.32 L459.28,206.15 L457.02,206.77 L454.75,209.49 L452.49,212.23 L450.22,211.06 L447.96,213.81 L445.69,215.33 L443.43,216.58 L441.16,222.15 L438.90,223.41 L436.63,226.18 L434.36,226.94 L432.10,224.47 L429.83,226.02 L427.57,228.45 L425.30,227.56 L423.04,225.20 L420.77,228.00 L418.51,229.27 L416.24,226.48 L413.98,229.63 L411.71,230.46 L409.45,232.21 L407.18,232.45 L404.92,231.79 L402.65,230.72 L400.39,233.40 L398.12,235.85 L395.85,228.34 L393.59,232.10 L391.32,235.05 L389.06,237.11 L386.79,235.06 L384.53,232.66 L382.26,233.80 L380.00,234.81 L377.73,236.37 L375.47,236.95 L373.20,236.78 L370.94,236.93 L368.67,235.91 L366.41,237.34 Z" fill="#17becf" fill-opacity="0.2" stroke="none"/>
<path d="M366.41,212.72 L368.67,212.28 L370.94,215.29 L373.20,212.94 L375.47,212.31 L377.73,212.01 L380.00,211.27 L382.26,209.92 L384.53,209.15 L386.79,211.50 L389.06,212.60 L391.32,211.33 L393.59,211.06 L395.85,211.10 L398.12,211.38 L400.39,210.64 L402.65,209.30 L404.92,211.43 L407.18,208.42 L409.45,209.39 L411.71,208.62 L413.98,206.82 L416.24,208.16 L418.51,206.31 L420.77,207.08 L423.04,206.18 L425.30,205.85 L427.57,206.06 L429.83,204.95 L432.10,206.02 L434.36,205.25 L436.63,206.39 L438.90,203.07 L441.16,205.20 L443.43,203.62 L445.69,201.45 L447.96,200.23 L450.22,198.03 L452.49,199.42 L454.75,195.49 L457.02,195.94 L459.28,195.84 L461.55,195.91 L463.81,193.31 L466.08,191.98 L468.34,192.86 L470.61,192.56 L472.88,191.25 L475.14,190.88 L477.41,190.25 L479.67,189.71 L481.94,186.21 L484.20,186.46 L486.47,185.86 L488.73,185.05 L491.00,183.23 L493.26,180.14 L495.53,181.25 L497.79,179.60 L500.06,177.31 L502.32,177.12 L504.59,172.90 L506.85,173.47 L509.12,171.12 L511.39,170.08 L513.65,168.74 L515.92,166.26 L518.18,164.86 L520.45,163.99 L522.71,161.61 L524.98,160.52 L527.24,159.75 L529.51,158.30 L531.77,157.70 L534.04,154.77 L536.30,155.78 L538.57,153.02 L540.83,152.96 L543.10,152.39 L545.36,150.70 L547.63,149.11 L549.90,148.71 L552.16,147.52 L554.43,145.83 L556.69,145.52 L558.96,145.57 L561.22,142.78 L563.49,142.29 L565.75,143.71 L568.02,140.85 L570.28,139.56 L572.55,140.20 L574.81,138.32 L577.08,138.72 L579.34,138.65 L581.61,136.72 L583.87,135.88 L586.14,136.03 L588.41,134.46 L590.67,133.68 L592.94,134.95 L595.20,134.20 L597.47,133.85 L599.73,132.19 L602.00,131.61 L604.26,131.64 L606.53,131.13 L608.79,130.08 L611.06,128.01 L613.32,128.94 L615.59,128.04 L617.85,127.60 L620.12,127.42 L622.38,126.20 L624.65,124.93 L624.65,127.65 L622.38,129.39 L620.12,130.60 L617.85,130.67 L615.59,130.77 L613.32,132.72 L611.06,131.25 L608.79,132.92 L606.53,134.61 L604.26,135.10 L602.00,134.62 L599.73,135.81 L597.47,137.09 L595.20,137.87 L592.94,137.84 L590.67,136.49 L588.41,137.47 L586.14,140.14 L583.87,138.82 L581.61,140.40 L579.34,141.96 L577.08,141.67 L574.81,142.74 L572.55,143.32 L570.28,143.53 L568.02,144.07 L565.75,146.97 L563.49,145.92 L561.22,146.76 L558.96,149.05 L556.69,148.88 L554.43,149.42 L552.16,151.94 L549.90,152.08 L547.63,154.28 L545.36,154.73 L543.10,156.15 L540.83,157.18 L538.57,157.56 L536.30,159.18 L534.04,158.69 L531.77,162.40 L529.51,163.21 L527.24,163.46 L524.98,164.36 L522.71,166.19 L520.45,168.44 L518.18,168.55 L515.92,170.91 L513.65,172.50 L511.39,173.88 L509.12,176.20 L506.85,177.97 L504.59,177.30 L502.32,181.51 L500.06,183.68 L497.79,184.24 L495.53,186.96 L493.26,185.14 L491.00,188.58 L488.73,189.71 L486.47,190.37 L484.20,191.81 L481.94,191.44 L479.67,194.81 L477.41,195.53 L475.14,197.49 L472.88,197.42 L470.61,198.16 L468.34,198.55 L466.08,198.02 L463.81,200.27 L461.55,201.68 L459.28,202.57 L457.02,202.88 L454.75,201.52 L452.49,204.87 L450.22,204.12 L447.96,206.82 L445.69,207.21 L443.43,209.07 L441.16,211.75 L438.90,210.47 L436.63,212.34 L434.36,211.53 L432.10,211.91 L429.83,211.86 L427.57,213.16 L425.30,213.84 L423.04,213.02 L420.77,212.96 L418.51,212.39 L416.24,215.00 L413.98,214.29 L411.71,214.56 L409.45,215.96 L407.18,217.41 L404.92,218.49 L402.65,215.51 L400.39,218.56 L398.12,218.14 L395.85,219.37 L393.59,218.53 L391.32,217.56 L389.06,219.27 L386.79,218.33 L384.53,218.24 L382.26,217.63 L380.00,218.95 L377.73,218.56 L375.47,218.99 L373.20,220.91 L370.94,222.36 L368.67,219.58 L366.41,219.46 Z" fill="#9467bd" fill-opacity="0.2" stroke="none"/>
<path d="M366.41,249.94 L368.67,250.27 L370.94,250.57 L373.20,249.60 L375.47,250.97 L377.73,252.10 L380.00,250.46 L382.26,249.93 L384.53,250.99 L386.79,249.74 L389.06,250.11 L391.32,249.94 L393.59,250.80 L395.85,249.45 L398.12,248.67 L400.39,249.01 L402.65,249.52 L404.92,249.93 L407.18,250.55 L409.45,249.17 L411.71,249.76 L413.98,250.17 L416.24,249.91 L418.51,249.16 L420.77,250.40 L423.04,249.81 L425.30,248.57 L427.57,248.76 L429.83,248.97 L432.10,248.63 L434.36,248.45 L436.63,249.30 L438.90,246.75 L441.16,247.87 L443.43,247.15 L445.69,247.21 L447.96,247.69 L450.22,249.07 L452.49,247.13 L454.75,246.06 L457.02,244.41 L459.28,245.16 L461.55,246.14 L463.81,245.20 L466.08,243.93 L468.34,241.24 L470.61,243.46 L472.88,240.88 L475.14,240.22 L477.41,238.90 L479.67,237.51 L481.94,240.19 L484.20,236.40 L486.47,236.98 L488.73,235.31 L491.00,237.17 L493.26,235.41 L495.53,233.60 L497.79,234.60 L500.06,232.98 L502.32,233.27 L504.59,230.90 L506.85,233.77 L509.12,232.11 L511.39,230.30 L513.65,231.39 L515.92,227.72 L518.18,228.11 L520.45,226.10 L522.71,228.33 L524.98,227.69 L527.24,228.24 L529.51,228.88 L531.77,223.55 L534.04,226.78 L536.30,224.36 L538.57,222.19 L540.83,225.33 L543.10,224.52 L545.36,225.52 L547.63,227.00 L549.90,223.61 L552.16,222.48 L554.43,219.44 L556.69,221.81 L558.96,183.42 L561.22,220.75 L563.49,222.86 L565.75,222.46 L568.02,219.80 L570.28,224.73 L572.55,150.49 L574.81,221.39 L577.08,218.56 L579.34,159.10 L581.61,219.68 L583.87,214.86 L586.14,212.48 L588.41,212.61 L590.67,220.21 L592.94,222.42 L595.20,215.09 L597.47,216.73 L599.73,214.00 L602.00,218.86 L604.26,212.02 L606.53,218.84 L608.79,214.15 L611.06,213.01 L613.32,209.46 L615.59,206.54 L617.85,208.94 L620.12,207.58 L622.38,204.86 L624.65,203.73 L624.65,224.10 L622.38,224.22 L620.12,225.30 L617.85,227.87 L615.59,221.76 L613.32,220.35 L611.06,227.31 L608.79,225.25 L606.53,230.43 L604.26,231.81 L602.00,232.32 L599.73,227.82 L597.47,229.36 L595.20,233.07 L592.94,233.82 L590.67,232.67 L588.41,230.68 L586.14,231.11 L583.87,224.95 L581.61,232.56 L579.34,354.83 L577.08,229.87 L574.81,232.05 L572.55,354.83 L570.28,235.44 L568.02,231.06 L565.75,232.35 L563.49,232.50 L561.22,231.88 L558.96,279.95 L556.69,234.29 L554.43,232.57 L552.16,232.38 L549.90,232.86 L547.63,236.82 L545.36,235.39 L543.10,237.09 L540.83,234.38 L538.57,234.70 L536.30,234.82 L534.04,239.01 L531.77,232.81 L529.51,238.41 L527.24,236.66 L524.98,239.56 L522.71,237.52 L520.45,236.39 L518.18,238.15 L515.92,236.10 L513.65,239.64 L511.39,238.56 L509.12,241.82 L506.85,241.80 L504.59,239.47 L502.32,241.96 L500.06,243.85 L497.79,243.21 L495.53,241.96 L493.26,243.75 L491.00,245.71 L488.73,244.18 L486.47,245.46 L484.20,244.33 L481.94,248.25 L479.67,246.75 L477.41,246.46 L475.14,248.02 L472.88,248.75 L470.61,250.98 L468.34,248.85 L466.08,251.32 L463.81,252.84 L461.55,253.55 L459.28,252.53 L457.02,251.84 L454.75,253.24 L452.49,254.14 L450.22,256.44 L447.96,254.94 L445.69,254.44 L443.43,254.27 L441.16,254.69 L438.90,253.64 L436.63,256.02 L434.36,255.23 L432.10,255.40 L429.83,255.67 L427.57,255.57 L425.30,255.12 L423.04,256.49 L420.77,256.96 L418.51,255.78 L416.24,256.36 L413.98,256.60 L411.71,256.21 L409.45,255.59 L407.18,256.97 L404.92,256.31 L402.65,255.98 L400.39,255.29 L398.12,254.96 L395.85,255.69 L393.59,257.00 L391.32,256.14 L389.06,256.26 L386.79,255.88 L384.53,257.11 L382.26,256.04 L380.00,256.54 L377.73,258.18 L375.47,257.03 L373.20,255.64 L370.94,256.59 L368.67,256.28 L366.41,255.94 Z" fill="#9467bd" fill-opacity="0.15" stroke="none"/>
<path d="M366.41,215.33 L368.67,215.59 L370.94,215.07 L373.20,215.95 L375.47,216.77 L377.73,217.41 L380.00,218.20 L382.26,219.31 L384.53,217.95 L386.79,221.01 L389.06,221.96 L391.32,223.16 L393.59,222.43 L395.85,221.16 L398.12,223.24 L400.39,224.81 L402.65,224.48 L404.92,226.88 L407.18,227.04 L409.45,228.27 L411.71,226.86 L413.98,229.65 L416.24,229.81 L418.51,231.36 L420.77,232.28 L423.04,233.46 L425.30,234.08 L427.57,234.43 L429.83,237.22 L432.10,240.69 L434.36,238.83 L436.63,239.37 L438.90,240.99 L441.16,241.16 L443.43,241.56 L445.69,242.54 L447.96,244.16 L450.22,243.30 L452.49,242.61 L454.75,241.70 L457.02,242.12 L459.28,241.50 L461.55,239.03 L463.81,241.44 L466.08,241.04 L468.34,240.25 L470.61,237.54 L472.88,237.23 L475.14,237.44 L477.41,235.53 L479.67,235.27 L481.94,234.57 L484.20,234.82 L486.47,234.73 L488.73,234.44 L491.00,234.89 L493.26,235.51 L495.53,235.15 L497.79,234.49 L500.06,234.37 L502.32,232.60 L504.59,231.23 L506.85,231.48 L509.12,233.19 L511.39,231.35 L513.65,231.30 L515.92,231.88 L518.18,229.91 L520.45,228.42 L522.71,228.32 L524.98,228.61 L527.24,229.75 L529.51,230.86 L531.77,227.31 L534.04,227.92 L536.30,226.83 L538.57,224.48 L540.83,228.91 L543.10,224.88 L545.36,223.65 L547.63,223.98 L549.90,221.51 L552.16,217.60 L554.43,219.54 L556.69,219.13 L558.96,216.35 L561.22,214.49 L563.49,219.46 L565.75,219.75 L568.02,215.42 L570.28,216.34 L572.55,216.28 L574.81,219.89 L577.08,218.13 L579.34,214.14 L581.61,212.27 L583.87,212.28 L586.14,209.65 L588.41,211.77 L590.67,214.76 L592.94,211.70 L595.20,209.43 L597.47,209.41 L599.73,210.57 L602.00,209.28 L604.26,211.74 L606.53,211.28 L608.79,214.71 L611.06,206.56 L613.32,204.58 L615.59,204.86 L617.85,208.79 L620.12,205.91 L622.38,204.53 L624.65,202.76 L624.65,216.18 L622.38,220.10 L620.12,218.70 L617.85,222.67 L615.59,220.41 L613.32,217.75 L611.06,225.66 L608.79,226.59 L606.53,226.85 L604.26,223.54 L602.00,228.28 L599.73,225.63 L597.47,226.13 L595.20,225.81 L592.94,226.30 L590.67,227.96 L588.41,225.06 L586.14,228.92 L583.87,224.30 L581.61,224.47 L579.34,231.63 L577.08,229.54 L574.81,230.47 L572.55,229.72 L570.28,232.98 L568.02,230.26 L565.75,230.20 L563.49,231.48 L561.22,227.50 L558.96,228.02 L556.69,230.24 L554.43,231.80 L552.16,231.86 L549.90,234.54 L547.63,234.11 L545.36,233.70 L543.10,238.52 L540.83,240.20 L538.57,236.48 L536.30,236.44 L534.04,238.45 L531.77,237.97 L529.51,240.51 L527.24,238.93 L524.98,240.78 L522.71,237.38 L520.45,238.08 L518.18,240.94 L515.92,240.94 L513.65,240.40 L511.39,241.33 L509.12,242.38 L506.85,241.12 L504.59,240.00 L502.32,242.77 L500.06,244.64 L497.79,244.25 L495.53,243.63 L493.26,244.18 L491.00,243.23 L488.73,242.86 L486.47,243.83 L484.20,243.50 L481.94,242.63 L479.67,243.13 L477.41,243.76 L475.14,245.65 L472.88,246.00 L470.61,245.59 L468.34,247.95 L466.08,248.64 L463.81,249.09 L461.55,246.76 L459.28,248.98 L457.02,249.58 L454.75,249.32 L452.49,249.92 L450.22,250.50 L447.96,251.70 L445.69,249.83 L443.43,248.77 L441.16,248.44 L438.90,248.02 L436.63,246.35 L434.36,245.75 L432.10,247.58 L429.83,244.01 L427.57,241.45 L425.30,240.99 L423.04,240.22 L420.77,238.96 L418.51,238.02 L416.24,236.44 L413.98,236.36 L411.71,233.54 L409.45,234.77 L407.18,233.57 L404.92,233.30 L402.65,230.86 L400.39,231.20 L398.12,229.55 L395.85,227.47 L393.59,228.68 L391.32,229.38 L389.06,228.14 L386.79,227.23 L384.53,224.10 L382.26,225.44 L380.00,224.31 L377.73,223.49 L375.47,222.83 L373.20,221.99 L370.94,221.10 L368.67,221.60 L366.41,221.34 Z" fill="#17becf" fill-opacity="0.15" stroke="none"/>
<path d="M366.41,237.60 L368.67,238.02 L370.94,237.67 L373.20,240.29 L375.47,239.23 L377.73,241.14 L380.00,241.29 L382.26,239.94 L384.53,240.20 L386.79,243.82 L389.06,242.83 L391.32,242.91 L393.59,245.66 L395.85,243.23 L398.12,244.90 L400.39,245.18 L402.65,243.45 L404.92,246.15 L407.18,247.30 L409.45,248.15 L411.71,245.89 L413.98,246.21 L416.24,250.20 L418.51,246.71 L420.77,246.47 L423.04,251.82 L425.30,248.87 L427.57,246.91 L429.83,246.81 L432.10,246.18 L434.36,246.63 L436.63,243.08 L438.90,245.48 L441.16,243.25 L443.43,242.39 L445.69,241.68 L447.96,243.17 L450.22,240.98 L452.49,238.55 L454.75,240.92 L457.02,238.17 L459.28,237.24 L461.55,237.89 L463.81,236.92 L466.08,235.34 L468.34,235.23 L470.61,237.12 L472.88,231.59 L475.14,233.20 L477.41,231.41 L479.67,230.38 L481.94,230.36 L484.20,231.56 L486.47,230.03 L488.73,228.05 L491.00,227.78 L493.26,225.16 L495.53,228.90 L497.79,224.63 L500.06,226.52 L502.32,222.96 L504.59,226.54 L506.85,224.39 L509.12,226.03 L511.39,222.35 L513.65,226.51 L515.92,220.23 L518.18,222.90 L520.45,220.73 L522.71,221.10 L524.98,221.64 L527.24,222.34 L529.51,217.52 L531.77,213.09 L534.04,218.72 L536.30,216.56 L538.57,218.17 L540.83,214.64 L543.10,217.80 L545.36,214.00 L547.63,210.62 L549.90,214.89 L552.16,208.14 L554.43,212.48 L556.69,207.68 L558.96,206.93 L561.22,210.05 L563.49,209.23 L565.75,208.75 L568.02,208.93 L570.28,203.78 L572.55,202.35 L574.81,205.42 L577.08,202.97 L579.34,201.94 L581.61,199.41 L583.87,196.29 L586.14,200.20 L588.41,197.18 L590.67,193.21 L592.94,198.85 L595.20,198.86 L597.47,193.08 L599.73,192.38 L602.00,199.55 L604.26,201.88 L606.53,196.96 L608.79,192.70 L611.06,189.02 L613.32,191.22 L615.59,187.10 L617.85,190.18 L620.12,179.38 L622.38,186.05 L624.65,176.20 L624.65,218.06 L622.38,222.66 L620.12,223.73 L617.85,221.83 L615.59,215.03 L613.32,221.13 L611.06,216.85 L608.79,235.56 L606.53,228.92 L604.26,233.23 L602.00,228.36 L599.73,228.75 L597.47,225.69 L595.20,223.44 L592.94,223.32 L590.67,237.07 L588.41,225.44 L586.14,226.04 L583.87,222.38 L581.61,232.92 L579.34,232.64 L577.08,224.57 L574.81,229.45 L572.55,230.28 L570.28,230.69 L568.02,228.94 L565.75,231.12 L563.49,232.29 L561.22,231.57 L558.96,227.64 L556.69,228.62 L554.43,239.69 L552.16,227.52 L549.90,239.73 L547.63,234.02 L545.36,235.84 L543.10,235.58 L540.83,240.65 L538.57,235.68 L536.30,235.01 L534.04,241.03 L531.77,237.67 L529.51,235.53 L527.24,239.27 L524.98,239.26 L522.71,237.18 L520.45,237.73 L518.18,239.74 L515.92,238.86 L513.65,243.19 L511.39,238.96 L509.12,243.93 L506.85,239.47 L504.59,242.29 L502.32,241.49 L500.06,242.45 L497.79,240.43 L495.53,243.57 L493.26,238.98 L491.00,241.49 L488.73,242.37 L486.47,243.31 L484.20,244.59 L481.94,244.09 L479.67,243.70 L477.41,245.25 L475.14,246.60 L472.88,244.09 L470.61,249.36 L468.34,247.75 L466.08,248.42 L463.81,248.88 L461.55,249.86 L459.28,248.73 L457.02,249.49 L454.75,251.86 L452.49,250.27 L450.22,252.79 L447.96,255.22 L445.69,252.43 L443.43,253.49 L441.16,253.41 L438.90,255.65 L436.63,253.33 L434.36,256.48 L432.10,255.92 L429.83,256.93 L427.57,256.59 L425.30,258.59 L423.04,261.41 L420.77,255.62 L418.51,255.66 L416.24,259.28 L413.98,255.01 L411.71,254.53 L409.45,256.67 L407.18,255.86 L404.92,254.59 L402.65,251.71 L400.39,253.38 L398.12,253.02 L395.85,251.26 L393.59,253.61 L391.32,250.77 L389.06,250.65 L386.79,251.50 L384.53,247.85 L382.26,247.52 L380.00,248.77 L377.73,248.57 L375.47,246.61 L373.20,247.63 L370.94,244.95 L368.67,245.27 L366.41,244.83 Z" fill="#ff7f0e" fill-opacity="0.15" stroke="none"/>
<path d="M366.41,230.00 L368.67,231.44 L370.94,231.28 L373.20,231.89 L375.47,232.63 L377.73,234.12 L380.00,235.24 L382.26,236.03 L384.53,231.53 L386.79,236.84 L389.06,234.84 L391.32,237.05 L393.59,236.15 L395.85,235.46 L398.12,234.73 L400.39,237.05 L402.65,238.10 L404.92,237.60 L407.18,237.00 L409.45,235.94 L411.71,233.68 L413.98,233.98 L416.24,238.28 L418.51,237.23 L420.77,238.16 L423.04,237.54 L425.30,235.24 L427.57,238.51 L429.83,235.78 L432.10,236.83 L434.36,237.51 L436.63,237.04 L438.90,234.63 L441.16,237.18 L443.43,237.58 L445.69,235.63 L447.96,235.68 L450.22,235.71 L452.49,238.82 L454.75,238.03 L457.02,235.14 L459.28,234.11 L461.55,233.88 L463.81,236.12 L466.08,232.99 L468.34,231.92 L470.61,234.52 L472.88,232.40 L475.14,231.54 L477.41,231.72 L479.67,228.13 L481.94,227.93 L484.20,228.22 L486.47,227.37 L488.73,224.60 L491.00,228.31 L493.26,225.35 L495.53,227.05 L497.79,223.52 L500.06,224.03 L502.32,224.39 L504.59,224.71 L506.85,222.30 L509.12,224.17 L511.39,223.91 L513.65,225.50 L515.92,220.67 L518.18,217.69 L520.45,218.83 L522.71,217.01 L524.98,219.36 L527.24,217.38 L529.51,215.27 L531.77,217.61 L534.04,216.40 L536.30,215.46 L538.57,214.70 L540.83,216.24 L543.10,219.95 L545.36,214.14 L547.63,216.41 L549.90,211.99 L552.16,209.04 L554.43,212.83 L556.69,211.24 L558.96,212.82 L561.22,208.46 L563.49,212.92 L565.75,207.64 L568.02,208.12 L570.28,208.82 L572.55,205.32 L574.81,207.58 L577.08,210.35 L579.34,206.85 L581.61,204.60 L583.87,202.08 L586.14,202.75 L588.41,198.23 L590.67,205.16 L592.94,194.40 L595.20,199.11 L597.47,201.09 L599.73,196.78 L602.00,199.36 L604.26,195.19 L606.53,207.51 L608.79,197.43 L611.06,187.98 L613.32,191.70 L615.59,195.39 L617.85,196.40 L620.12,191.51 L622.38,183.19 L624.65,190.57 L624.65,217.28 L622.38,209.26 L620.12,207.35 L617.85,213.88 L615.59,214.78 L613.32,208.20 L611.06,213.89 L608.79,223.31 L606.53,223.72 L604.26,216.63 L602.00,223.10 L599.73,213.74 L597.47,219.62 L595.20,217.13 L592.94,217.82 L590.67,218.80 L588.41,218.13 L586.14,219.55 L583.87,215.81 L581.61,219.63 L579.34,221.63 L577.08,223.42 L574.81,224.36 L572.55,219.45 L570.28,229.46 L568.02,220.57 L565.75,219.85 L563.49,228.51 L561.22,220.53 L558.96,225.23 L556.69,222.86 L554.43,224.54 L552.16,226.96 L549.90,223.25 L547.63,228.04 L545.36,226.44 L543.10,235.16 L540.83,228.56 L538.57,227.15 L536.30,228.56 L534.04,229.68 L531.77,229.73 L529.51,227.31 L527.24,229.62 L524.98,230.51 L522.71,229.43 L520.45,228.78 L518.18,228.15 L515.92,230.51 L513.65,235.19 L511.39,235.45 L509.12,234.91 L506.85,232.52 L504.59,235.23 L502.32,233.75 L500.06,233.87 L497.79,234.33 L495.53,237.30 L493.26,234.85 L491.00,238.40 L488.73,233.70 L486.47,236.82 L484.20,236.98 L481.94,236.64 L479.67,237.45 L477.41,240.92 L475.14,240.62 L472.88,241.71 L470.61,243.01 L468.34,240.90 L466.08,241.24 L463.81,244.77 L461.55,242.09 L459.28,242.50 L457.02,243.18 L454.75,246.19 L452.49,246.94 L450.22,243.76 L447.96,243.52 L445.69,243.60 L443.43,245.03 L441.16,244.70 L438.90,242.11 L436.63,244.38 L434.36,244.80 L432.10,244.10 L429.83,242.87 L427.57,245.64 L425.30,242.40 L423.04,244.47 L420.77,245.12 L418.51,244.06 L416.24,245.10 L413.98,240.80 L411.71,240.42 L409.45,242.74 L407.18,243.69 L404.92,244.25 L402.65,244.62 L400.39,243.53 L398.12,241.17 L395.85,241.84 L393.59,242.49 L391.32,243.38 L389.06,241.12 L386.79,243.07 L384.53,237.73 L382.26,242.20 L380.00,241.38 L377.73,240.24 L375.47,238.72 L373.20,237.95 L370.94,237.32 L368.67,237.46 L366.41,236.01 Z" fill="#d62728" fill-opacity="0.15" stroke="none"/>
<path d="M366.41,249.16 L368.67,248.55 L370.94,247.89 L373.20,249.95 L375.47,247.64 L377.73,249.47 L380.00,247.97 L382.26,246.67 L384.53,247.39 L386.79,248.24 L389.06,247.54 L391.32,248.86 L393.59,248.43 L395.85,247.85 L398.12,248.13 L400.39,248.82 L402.65,248.66 L404.92,248.45 L407.18,248.31 L409.45,249.42 L411.71,247.56 L413.98,246.95 L416.24,249.26 L418.51,249.68 L420.77,247.71 L423.04,249.46 L425.30,248.21 L427.57,247.24 L429.83,247.66 L432.10,249.07 L434.36,248.49 L436.63,248.73 L438.90,248.09 L441.16,247.70 L443.43,246.92 L445.69,246.49 L447.96,246.17 L450.22,247.21 L452.49,245.94 L454.75,246.21 L457.02,245.37 L459.28,243.53 L461.55,242.79 L463.81,243.04 L466.08,241.75 L468.34,240.89 L470.61,241.18 L472.88,239.50 L475.14,238.64 L477.41,236.83 L479.67,235.03 L481.94,234.88 L484.20,233.60 L486.47,233.43 L488.73,233.70 L491.00,233.49 L493.26,232.55 L495.53,232.75 L497.79,231.47 L500.06,231.97 L502.32,228.95 L504.59,230.80 L506.85,230.16 L509.12,230.11 L511.39,230.09 L513.65,228.05 L515.92,227.66 L518.18,228.16 L520.45,228.73 L522.71,224.69 L524.98,224.58 L527.24,225.93 L529.51,225.49 L531.77,221.62 L534.04,223.71 L536.30,222.49 L538.57,220.56 L540.83,222.98 L543.10,218.36 L545.36,218.85 L547.63,216.61 L549.90,219.28 L552.16,215.40 L554.43,213.55 L556.69,216.78 L558.96,211.38 L561.22,210.50 L563.49,213.45 L565.75,215.10 L568.02,212.31 L570.28,212.36 L572.55,213.21 L574.81,210.58 L577.08,212.63 L579.34,214.41 L581.61,207.69 L583.87,205.41 L586.14,205.52 L588.41,206.21 L590.67,210.06 L592.94,203.57 L595.20,205.74 L597.47,205.59 L599.73,205.68 L602.00,205.39 L604.26,206.61 L606.53,206.59 L608.79,200.97 L611.06,204.58 L613.32,201.62 L615.59,200.53 L617.85,205.28 L620.12,196.08 L622.38,197.19 L624.65,194.56 L624.65,210.93 L622.38,217.42 L620.12,216.43 L617.85,221.23 L615.59,214.44 L613.32,214.04 L611.06,218.16 L608.79,217.06 L606.53,223.62 L604.26,217.52 L602.00,222.83 L599.73,223.46 L597.47,217.75 L595.20,221.35 L592.94,219.45 L590.67,220.86 L588.41,222.68 L586.14,216.38 L583.87,219.84 L581.61,221.61 L579.34,227.31 L577.08,222.99 L574.81,226.01 L572.55,223.20 L570.28,224.77 L568.02,221.96 L565.75,226.02 L563.49,226.13 L561.22,222.39 L558.96,223.49 L556.69,228.69 L554.43,225.94 L552.16,225.17 L549.90,229.03 L547.63,227.67 L545.36,230.57 L543.10,227.95 L540.83,232.11 L538.57,231.81 L536.30,232.10 L534.04,233.57 L531.77,233.17 L529.51,234.17 L527.24,236.93 L524.98,234.09 L522.71,233.53 L520.45,237.38 L518.18,237.94 L515.92,236.05 L513.65,236.63 L511.39,238.43 L509.12,239.08 L506.85,238.28 L504.59,239.76 L502.32,237.46 L500.06,240.93 L497.79,240.36 L495.53,241.32 L493.26,242.98 L491.00,242.61 L488.73,241.56 L486.47,241.46 L484.20,242.18 L481.94,242.96 L479.67,243.05 L477.41,244.40 L475.14,246.01 L472.88,247.46 L470.61,248.67 L468.34,248.49 L466.08,249.96 L463.81,250.26 L461.55,251.07 L459.28,251.66 L457.02,253.09 L454.75,253.49 L452.49,253.31 L450.22,254.31 L447.96,253.21 L445.69,253.57 L443.43,253.81 L441.16,255.04 L438.90,254.87 L436.63,255.51 L434.36,255.21 L432.10,255.82 L429.83,254.45 L427.57,254.23 L425.30,254.82 L423.04,256.00 L420.77,254.36 L418.51,256.31 L416.24,255.83 L413.98,253.40 L411.71,254.03 L409.45,255.83 L407.18,254.64 L404.92,254.89 L402.65,255.08 L400.39,255.14 L398.12,254.38 L395.85,254.09 L393.59,254.64 L391.32,255.07 L389.06,253.71 L386.79,254.38 L384.53,253.51 L382.26,252.76 L380.00,254.05 L377.73,255.53 L375.47,253.69 L373.20,255.99 L370.94,253.91 L368.67,254.56 L366.41,255.16 Z" fill="#9467bd" fill-opacity="0.15" stroke="none"/>
<path d="M366.41,260.44 L368.67,259.36 L370.94,258.92 L373.20,258.53 L375.47,258.00 L377.73,257.59 L380.00,256.00 L382.26,256.83 L384.53,255.21 L386.79,255.72 L389.06,253.00 L391.32,254.87 L393.59,253.55 L395.85,252.42 L398.12,252.81 L400.39,251.71 L402.65,251.71 L404.92,251.21 L407.18,251.15 L409.45,250.20 L411.71,249.58 L413.98,249.54 L416.24,248.06 L418.51,249.05 L420.77,247.38 L423.04,248.45 L425.30,247.43 L427.57,247.36 L429.83,247.56 L432.10,245.99 L434.36,245.12 L436.63,244.98 L438.90,245.36 L441.16,244.87 L443.43,243.37 L445.69,241.51 L447.96,243.58 L450.22,243.91 L452.49,242.10 L454.75,242.14 L457.02,241.17 L459.28,241.35 L461.55,239.15 L463.81,238.79 L466.08,240.22 L468.34,239.91 L470.61,238.18 L472.88,237.19 L475.14,236.91 L477.41,236.16 L479.67,236.64 L481.94,233.75 L484.20,233.44 L486.47,234.63 L488.73,233.28 L491.00,235.57 L493.26,233.16 L495.53,234.16 L497.79,232.93 L500.06,231.19 L502.32,232.93 L504.59,230.38 L506.85,229.79 L509.12,230.68 L511.39,225.83 L513.65,230.54 L515.92,224.62 L518.18,227.43 L520.45,228.38 L522.71,227.72 L524.98,228.32 L527.24,225.54 L529.51,222.22 L531.77,220.83 L534.04,224.47 L536.30,224.11 L538.57,225.01 L540.83,224.60 L543.10,222.23 L545.36,224.22 L547.63,220.99 L549.90,220.49 L552.16,217.48 L554.43,220.83 L556.69,220.97 L558.96,218.94 L561.22,215.67 L563.49,219.94 L565.75,217.94 L568.02,214.53 L570.28,214.17 L572.55,210.38 L574.81,214.64 L577.08,211.06 L579.34,215.88 L581.61,210.37 L583.87,208.20 L586.14,207.34 L588.41,211.60 L590.67,210.69 L592.94,205.69 L595.20,210.27 L597.47,206.58 L599.73,202.82 L602.00,207.79 L604.26,205.01 L606.53,210.12 L608.79,209.97 L611.06,204.79 L613.32,202.02 L615.59,197.66 L617.85,204.98 L620.12,196.44 L622.38,203.59 L624.65,198.48 L624.65,210.70 L622.38,218.49 L620.12,220.38 L617.85,219.73 L615.59,214.37 L613.32,225.41 L611.06,216.74 L608.79,222.88 L606.53,224.45 L604.26,220.21 L602.00,222.56 L599.73,217.42 L597.47,220.18 L595.20,222.93 L592.94,222.03 L590.67,222.63 L588.41,224.19 L586.14,219.64 L583.87,220.75 L581.61,225.84 L579.34,228.67 L577.08,223.45 L574.81,228.47 L572.55,224.74 L570.28,228.69 L568.02,226.52 L565.75,228.84 L563.49,233.84 L561.22,226.45 L558.96,229.71 L556.69,232.27 L554.43,232.42 L552.16,231.44 L549.90,232.91 L547.63,232.17 L545.36,234.65 L543.10,234.08 L540.83,236.64 L538.57,235.04 L536.30,236.78 L534.04,234.62 L531.77,232.43 L529.51,234.24 L527.24,235.99 L524.98,240.02 L522.71,237.92 L520.45,239.29 L518.18,239.22 L515.92,236.09 L513.65,240.56 L511.39,239.64 L509.12,241.11 L506.85,240.07 L504.59,241.26 L502.32,243.19 L500.06,241.90 L497.79,242.69 L495.53,244.02 L493.26,243.30 L491.00,245.34 L488.73,242.96 L486.47,245.04 L484.20,244.34 L481.94,245.23 L479.67,246.79 L477.41,246.06 L475.14,247.10 L472.88,247.23 L470.61,249.02 L468.34,249.83 L466.08,250.54 L463.81,248.86 L461.55,249.36 L459.28,251.74 L457.02,251.21 L454.75,252.36 L452.49,252.20 L450.22,253.86 L447.96,253.90 L445.69,252.10 L443.43,253.48 L441.16,254.91 L438.90,255.50 L436.63,255.27 L434.36,255.64 L432.10,256.19 L429.83,257.87 L427.57,257.93 L425.30,257.67 L423.04,258.80 L420.77,257.89 L418.51,259.70 L416.24,258.70 L413.98,260.04 L411.71,260.18 L409.45,260.83 L407.18,261.77 L404.92,261.96 L402.65,262.43 L400.39,262.60 L398.12,263.74 L395.85,263.42 L393.59,264.56 L391.32,265.94 L389.06,264.17 L386.79,266.93 L384.53,266.51 L382.26,268.18 L380.00,267.41 L377.73,269.07 L375.47,269.58 L373.20,270.19 L370.94,270.66 L368.67,271.19 L366.41,272.37 Z" fill="#17becf" fill-opacity="0.15" stroke="none"/>
<path d="M366.41,269.99 L368.67,270.15 L370.94,268.55 L373.20,266.76 L375.47,266.89 L377.73,268.53 L380.00,266.85 L382.26,264.87 L384.53,261.84 L386.79,262.98 L389.06,262.94 L391.32,260.32 L393.59,260.75 L395.85,258.18 L398.12,256.52 L400.39,257.05 L402.65,256.31 L404.92,255.23 L407.18,254.40 L409.45,252.81 L411.71,250.92 L413.98,251.04 L416.24,249.39 L418.51,248.59 L420.77,249.70 L423.04,248.21 L425.30,247.39 L427.57,246.75 L429.83,245.28 L432.10,248.06 L434.36,246.19 L436.63,242.49 L438.90,242.79 L441.16,244.91 L443.43,244.39 L445.69,240.79 L447.96,242.29 L450.22,241.92 L452.49,243.42 L454.75,240.66 L457.02,241.04 L459.28,239.00 L461.55,235.25 L463.81,236.62 L466.08,235.43 L468.34,235.99 L470.61,235.00 L472.88,234.02 L475.14,231.20 L477.41,232.97 L479.67,232.37 L481.94,230.18 L484.20,227.89 L486.47,230.37 L488.73,227.64 L491.00,229.45 L493.26,228.42 L495.53,229.20 L497.79,228.62 L500.06,227.07 L502.32,222.76 L504.59,220.39 L506.85,222.89 L509.12,224.63 L511.39,225.02 L513.65,224.73 L515.92,220.79 L518.18,222.40 L520.45,219.04 L522.71,221.92 L524.98,217.54 L527.24,220.40 L529.51,216.33 L531.77,215.59 L534.04,214.32 L536.30,217.33 L538.57,214.40 L540.83,213.37 L543.10,212.10 L545.36,211.81 L547.63,212.45 L549.90,207.82 L552.16,206.77 L554.43,205.64 L556.69,210.19 L558.96,205.81 L561.22,207.54 L563.49,209.15 L565.75,205.98 L568.02,202.15 L570.28,208.57 L572.55,205.55 L574.81,208.10 L577.08,204.44 L579.34,200.77 L581.61,202.96 L583.87,194.38 L586.14,195.88 L588.41,197.12 L590.67,202.24 L592.94,202.12 L595.20,195.10 L597.47,197.00 L599.73,187.55 L602.00,193.23 L604.26,195.76 L606.53,193.51 L608.79,190.20 L611.06,192.51 L613.32,186.09 L615.59,189.98 L617.85,193.52 L620.12,185.12 L622.38,184.71 L624.65,183.85 L624.65,222.42 L622.38,224.05 L620.12,210.66 L617.85,224.14 L615.59,215.33 L613.32,229.42 L611.06,223.99 L608.79,228.74 L606.53,222.48 L604.26,220.07 L602.00,223.21 L599.73,220.90 L597.47,230.70 L595.20,221.49 L592.94,225.24 L590.67,224.68 L588.41,220.28 L586.14,228.86 L583.87,217.85 L581.61,227.37 L579.34,227.27 L577.08,228.35 L574.81,230.27 L572.55,226.35 L570.28,232.96 L568.02,228.02 L565.75,227.57 L563.49,231.78 L561.22,227.72 L558.96,226.15 L556.69,237.55 L554.43,230.46 L552.16,234.39 L549.90,234.83 L547.63,231.85 L545.36,231.89 L543.10,242.65 L540.83,233.96 L538.57,233.64 L536.30,241.57 L534.04,232.34 L531.77,235.83 L529.51,234.48 L527.24,239.57 L524.98,237.26 L522.71,240.57 L520.45,241.48 L518.18,240.55 L515.92,238.01 L513.65,246.17 L511.39,241.49 L509.12,245.53 L506.85,240.32 L504.59,239.60 L502.32,242.54 L500.06,243.72 L497.79,245.10 L495.53,246.50 L493.26,243.94 L491.00,249.26 L488.73,244.91 L486.47,246.17 L484.20,242.99 L481.94,246.09 L479.67,247.76 L477.41,248.09 L475.14,246.90 L472.88,250.32 L470.61,249.07 L468.34,250.00 L466.08,249.96 L463.81,251.07 L461.55,250.39 L459.28,252.72 L457.02,254.81 L454.75,255.37 L452.49,257.62 L450.22,255.47 L447.96,256.63 L445.69,254.58 L443.43,257.85 L441.16,258.71 L438.90,256.14 L436.63,256.47 L434.36,259.19 L432.10,261.41 L429.83,258.18 L427.57,260.04 L425.30,260.26 L423.04,261.02 L420.77,262.64 L418.51,261.35 L416.24,262.44 L413.98,263.98 L411.71,263.91 L409.45,265.47 L407.18,267.29 L404.92,267.88 L402.65,269.04 L400.39,269.69 L398.12,269.35 L395.85,270.83 L393.59,273.42 L391.32,272.98 L389.06,275.79 L386.79,275.72 L384.53,274.60 L382.26,277.65 L380.00,279.67 L377.73,281.39 L375.47,279.79 L373.20,279.71 L370.94,281.56 L368.67,283.23 L366.41,283.14 Z" fill="#ff7f0e" fill-opacity="0.15" stroke="none"/>
<path d="M366.41,230.73 L368.67,231.52 L370.94,233.20 L373.20,233.73 L375.47,230.98 L377.73,236.02 L380.00,234.41 L382.26,233.08 L384.53,232.08 L386.79,235.68 L389.06,233.53 L391.32,235.79 L393.59,233.68 L395.85,233.04 L398.12,234.34 L400.39,233.91 L402.65,234.46 L404.92,236.85 L407.18,234.85 L409.45,235.17 L411.71,233.49 L413.98,235.24 L416.24,235.04 L418.51,236.58 L420.77,235.73 L423.04,236.32 L425.30,236.22 L427.57,236.93 L429.83,236.44 L432.10,236.56 L434.36,236.62 L436.63,236.40 L438.90,235.90 L441.16,236.78 L443.43,237.68 L445.69,234.55 L447.96,235.92 L450.22,235.74 L452.49,238.83 L454.75,235.21 L457.02,235.94 L459.28,234.28 L461.55,233.85 L463.81,233.07 L466.08,232.74 L468.34,232.87 L470.61,232.48 L472.88,231.13 L475.14,233.07 L477.41,229.09 L479.67,226.55 L481.94,227.56 L484.20,224.96 L486.47,226.32 L488.73,227.99 L491.00,226.94 L493.26,226.06 L495.53,228.63 L497.79,224.18 L500.06,224.55 L502.32,223.71 L504.59,222.67 L506.85,222.21 L509.12,221.10 L511.39,222.51 L513.65,221.18 L515.92,220.34 L518.18,219.40 L520.45,217.08 L522.71,219.54 L524.98,220.41 L527.24,222.76 L529.51,217.99 L531.77,213.43 L534.04,217.81 L536.30,215.96 L538.57,213.55 L540.83,219.56 L543.10,220.44 L545.36,214.37 L547.63,217.49 L549.90,215.09 L552.16,210.85 L554.43,211.27 L556.69,212.81 L558.96,206.16 L561.22,202.31 L563.49,208.19 L565.75,208.54 L568.02,203.21 L570.28,208.47 L572.55,203.75 L574.81,204.67 L577.08,203.20 L579.34,200.62 L581.61,195.29 L583.87,200.46 L586.14,203.33 L588.41,196.55 L590.67,197.43 L592.94,194.11 L595.20,195.57 L597.47,195.77 L599.73,192.10 L602.00,200.20 L604.26,196.32 L606.53,184.85 L608.79,188.99 L611.06,182.36 L613.32,180.61 L615.59,186.40 L617.85,189.66 L620.12,173.19 L622.38,165.95 L624.65,173.90 L624.65,191.23 L622.38,196.50 L620.12,198.44 L617.85,210.98 L615.59,204.43 L613.32,197.43 L611.06,202.78 L608.79,203.88 L606.53,207.74 L604.26,216.20 L602.00,217.42 L599.73,208.39 L597.47,209.28 L595.20,212.80 L592.94,215.24 L590.67,212.96 L588.41,217.03 L586.14,216.81 L583.87,216.29 L581.61,208.12 L579.34,219.91 L577.08,217.60 L574.81,222.93 L572.55,223.67 L570.28,222.71 L568.02,217.74 L565.75,222.40 L563.49,224.06 L561.22,217.72 L558.96,217.88 L556.69,227.47 L554.43,222.91 L552.16,228.24 L549.90,227.11 L547.63,229.95 L545.36,226.65 L543.10,232.37 L540.83,230.36 L538.57,226.30 L536.30,228.74 L534.04,228.93 L531.77,226.96 L529.51,230.70 L527.24,234.39 L524.98,231.54 L522.71,230.58 L520.45,229.42 L518.18,230.11 L515.92,230.47 L513.65,233.01 L511.39,232.90 L509.12,230.67 L506.85,232.79 L504.59,234.60 L502.32,233.26 L500.06,234.38 L497.79,235.74 L495.53,239.00 L493.26,235.23 L491.00,237.92 L488.73,236.94 L486.47,235.61 L484.20,235.01 L481.94,237.04 L479.67,236.01 L477.41,238.23 L475.14,241.73 L472.88,240.80 L470.61,240.92 L468.34,241.02 L466.08,240.98 L463.81,241.39 L461.55,242.43 L459.28,242.56 L457.02,244.73 L454.75,242.97 L452.49,247.07 L450.22,243.60 L447.96,243.49 L445.69,242.48 L443.43,245.12 L441.16,244.36 L438.90,243.45 L436.63,243.81 L434.36,244.46 L432.10,243.85 L429.83,243.72 L427.57,244.17 L425.30,243.27 L423.04,243.32 L420.77,242.70 L418.51,243.49 L416.24,241.83 L413.98,242.16 L411.71,240.21 L409.45,241.87 L407.18,241.60 L404.92,243.49 L402.65,240.95 L400.39,240.39 L398.12,240.82 L395.85,239.41 L393.59,240.03 L391.32,242.09 L389.06,239.82 L386.79,241.92 L384.53,238.28 L382.26,239.25 L380.00,240.54 L377.73,242.12 L375.47,237.06 L373.20,239.79 L370.94,239.24 L368.67,237.54 L366.41,236.74 Z" fill="#d62728" fill-opacity="0.15" stroke="none"/>
<path d="M366.41,219.59 L368.67,223.51 L370.94,222.35 L373.20,224.48 L375.47,224.77 L377.73,224.96 L380.00,224.82 L382.26,224.87 L384.53,222.96 L386.79,224.84 L389.06,223.25 L391.32,222.80 L393.59,222.81 L395.85,222.69 L398.12,224.26 L400.39,223.38 L402.65,221.51 L404.92,219.13 L407.18,220.65 L409.45,219.02 L411.71,216.59 L413.98,216.87 L416.24,214.57 L418.51,211.19 L420.77,210.31 L423.04,211.70 L425.30,209.73 L427.57,209.83 L429.83,208.59 L432.10,206.05 L434.36,204.88 L436.63,202.25 L438.90,199.19 L441.16,198.72 L443.43,195.82 L445.69,193.15 L447.96,189.81 L450.22,187.68 L452.49,186.04 L454.75,182.00 L457.02,180.23 L459.28,178.68 L461.55,176.56 L463.81,174.40 L466.08,169.72 L468.34,168.20 L470.61,165.72 L472.88,162.63 L475.14,160.39 L477.41,158.12 L479.67,153.79 L481.94,151.86 L484.20,149.25 L486.47,146.89 L488.73,145.48 L491.00,143.48 L493.26,141.52 L495.53,140.72 L497.79,138.91 L500.06,136.33 L502.32,136.31 L504.59,133.03 L506.85,133.23 L509.12,130.67 L511.39,128.72 L513.65,128.43 L515.92,127.68 L518.18,123.69 L520.45,124.14 L522.71,122.41 L524.98,120.24 L527.24,118.86 L529.51,117.29 L531.77,116.13 L534.04,114.96 L536.30,112.62 L538.57,112.04 L540.83,110.49 L543.10,108.96 L545.36,107.64 L547.63,106.21 L549.90,105.56 L552.16,103.57 L554.43,102.73 L556.69,101.82 L558.96,100.67 L561.22,99.57 L563.49,97.69 L565.75,97.30 L568.02,95.48 L570.28,94.77 L572.55,95.20 L574.81,93.29 L577.08,93.48 L579.34,91.86 L581.61,91.16 L583.87,89.88 L586.14,89.69 L588.41,87.99 L590.67,87.52 L592.94,87.19 L595.20,85.82 L597.47,85.05 L599.73,83.68 L602.00,82.58 L604.26,80.91 L606.53,80.77 L608.79,79.03 L611.06,78.76 L613.32,77.80 L615.59,77.67 L617.85,77.22 L620.12,77.27 L622.38,75.37 L624.65,74.63" fill="none" stroke="#d62728" stroke-width="1.15" stroke-linejoin="round"/>
<path d="M366.41,229.96 L368.67,233.60 L370.94,231.98 L373.20,233.81 L375.47,234.43 L377.73,234.25 L380.00,234.24 L382.26,230.02 L384.53,232.95 L386.79,233.74 L389.06,233.02 L391.32,232.37 L393.59,231.61 L395.85,232.43 L398.12,232.37 L400.39,228.75 L402.65,228.27 L404.92,227.64 L407.18,229.00 L409.45,226.81 L411.71,224.17 L413.98,224.49 L416.24,220.67 L418.51,220.25 L420.77,219.00 L423.04,217.02 L425.30,216.07 L427.57,215.01 L429.83,215.09 L432.10,214.59 L434.36,212.49 L436.63,211.81 L438.90,209.48 L441.16,208.81 L443.43,206.93 L445.69,204.24 L447.96,201.68 L450.22,200.48 L452.49,199.06 L454.75,195.66 L457.02,193.09 L459.28,192.74 L461.55,188.93 L463.81,188.36 L466.08,184.84 L468.34,182.74 L470.61,180.82 L472.88,177.62 L475.14,178.19 L477.41,174.33 L479.67,171.33 L481.94,169.35 L484.20,168.02 L486.47,164.98 L488.73,164.90 L491.00,161.22 L493.26,159.40 L495.53,157.97 L497.79,156.70 L500.06,155.32 L502.32,154.05 L504.59,151.50 L506.85,150.16 L509.12,149.00 L511.39,146.57 L513.65,146.18 L515.92,144.33 L518.18,144.10 L520.45,142.82 L522.71,140.73 L524.98,139.05 L527.24,138.19 L529.51,136.47 L531.77,134.86 L534.04,132.83 L536.30,131.58 L538.57,130.05 L540.83,128.94 L543.10,126.92 L545.36,124.79 L547.63,123.47 L549.90,121.72 L552.16,119.03 L554.43,118.03 L556.69,116.49 L558.96,116.13 L561.22,114.11 L563.49,113.38 L565.75,113.33 L568.02,111.61 L570.28,110.28 L572.55,110.48 L574.81,108.94 L577.08,109.43 L579.34,108.41 L581.61,107.09 L583.87,106.43 L586.14,105.82 L588.41,104.08 L590.67,104.33 L592.94,103.11 L595.20,102.09 L597.47,100.69 L599.73,100.56 L602.00,99.34 L604.26,98.27 L606.53,96.75 L608.79,96.45 L611.06,95.36 L613.32,94.88 L615.59,93.26 L617.85,92.77 L620.12,93.21 L622.38,91.80 L624.65,90.51" fill="none" stroke="#ff7f0e" stroke-width="1.15" stroke-linejoin="round"/>
<path d="M366.41,232.41 L368.67,231.29 L370.94,231.56 L373.20,231.83 L375.47,230.35 L377.73,230.79 L380.00,230.67 L382.26,228.88 L384.53,227.06 L386.79,230.23 L389.06,232.80 L391.32,230.18 L393.59,228.00 L395.85,224.49 L398.12,230.09 L400.39,229.08 L402.65,226.28 L404.92,225.57 L407.18,228.20 L409.45,225.65 L411.71,226.53 L413.98,225.88 L416.24,222.95 L418.51,224.79 L420.77,223.83 L423.04,221.49 L425.30,222.54 L427.57,223.75 L429.83,222.32 L432.10,220.41 L434.36,221.98 L436.63,220.29 L438.90,219.93 L441.16,218.42 L443.43,213.45 L445.69,212.17 L447.96,210.10 L450.22,207.09 L452.49,208.45 L454.75,206.07 L457.02,203.72 L459.28,203.36 L461.55,203.04 L463.81,200.19 L466.08,197.47 L468.34,197.52 L470.61,194.91 L472.88,194.25 L475.14,192.10 L477.41,191.01 L479.67,185.83 L481.94,184.66 L484.20,181.52 L486.47,181.37 L488.73,178.53 L491.00,178.54 L493.26,175.57 L495.53,174.08 L497.79,172.22 L500.06,170.58 L502.32,170.62 L504.59,165.96 L506.85,165.36 L509.12,162.99 L511.39,160.37 L513.65,160.44 L515.92,158.07 L518.18,154.36 L520.45,155.47 L522.71,152.98 L524.98,151.71 L527.24,149.13 L529.51,148.57 L531.77,147.98 L534.04,146.18 L536.30,145.48 L538.57,144.87 L540.83,144.33 L543.10,142.19 L545.36,141.65 L547.63,139.11 L549.90,139.27 L552.16,136.87 L554.43,134.78 L556.69,135.98 L558.96,134.81 L561.22,132.63 L563.49,130.54 L565.75,131.42 L568.02,130.46 L570.28,128.78 L572.55,127.62 L574.81,125.57 L577.08,125.92 L579.34,124.23 L581.61,123.23 L583.87,122.74 L586.14,122.52 L588.41,120.26 L590.67,119.74 L592.94,119.58 L595.20,118.16 L597.47,118.29 L599.73,117.60 L602.00,116.49 L604.26,116.10 L606.53,115.19 L608.79,113.85 L611.06,113.25 L613.32,113.87 L615.59,111.66 L617.85,112.04 L620.12,111.26 L622.38,108.80 L624.65,109.08" fill="none" stroke="#17becf" stroke-width="1.15" stroke-linejoin="round"/>
<path d="M366.41,216.00 L368.67,215.82 L370.94,218.72 L373.20,216.79 L375.47,215.56 L377.73,215.20 L380.00,214.99 L382.26,213.65 L384.53,213.52 L386.79,214.82 L389.06,215.84 L391.32,214.37 L393.59,214.68 L395.85,215.09 L398.12,214.67 L400.39,214.47 L402.65,212.32 L404.92,214.86 L407.18,212.75 L409.45,212.59 L411.71,211.52 L413.98,210.44 L416.24,211.48 L418.51,209.27 L420.77,209.95 L423.04,209.50 L425.30,209.71 L427.57,209.50 L429.83,208.31 L432.10,208.90 L434.36,208.31 L436.63,209.29 L438.90,206.66 L441.16,208.39 L443.43,206.28 L445.69,204.26 L447.96,203.43 L450.22,201.00 L452.49,202.08 L454.75,198.43 L457.02,199.31 L459.28,199.11 L461.55,198.73 L463.81,196.69 L466.08,194.92 L468.34,195.64 L470.61,195.29 L472.88,194.25 L475.14,194.09 L477.41,192.83 L479.67,192.21 L481.94,188.77 L484.20,189.07 L486.47,188.07 L488.73,187.33 L491.00,185.85 L493.26,182.59 L495.53,184.04 L497.79,181.88 L500.06,180.41 L502.32,179.28 L504.59,175.06 L506.85,175.67 L509.12,173.61 L511.39,171.95 L513.65,170.59 L515.92,168.54 L518.18,166.68 L520.45,166.17 L522.71,163.85 L524.98,162.41 L527.24,161.57 L529.51,160.71 L531.77,160.00 L534.04,156.70 L536.30,157.46 L538.57,155.25 L540.83,155.03 L543.10,154.24 L545.36,152.68 L547.63,151.64 L549.90,150.37 L552.16,149.69 L554.43,147.60 L556.69,147.17 L558.96,147.28 L561.22,144.74 L563.49,144.08 L565.75,145.32 L568.02,142.44 L570.28,141.51 L572.55,141.74 L574.81,140.49 L577.08,140.18 L579.34,140.28 L581.61,138.53 L583.87,137.33 L586.14,138.05 L588.41,135.95 L590.67,135.07 L592.94,136.38 L595.20,136.01 L597.47,135.45 L599.73,133.97 L602.00,133.10 L604.26,133.34 L606.53,132.85 L608.79,131.49 L611.06,129.61 L613.32,130.80 L615.59,129.39 L617.85,129.11 L620.12,128.99 L622.38,127.78 L624.65,126.27" fill="none" stroke="#9467bd" stroke-width="1.15" stroke-linejoin="round"/>
<path d="M366.41,252.87 L368.67,253.20 L370.94,253.50 L373.20,252.54 L375.47,253.93 L377.73,255.06 L380.00,253.42 L382.26,252.91 L384.53,253.97 L386.79,252.73 L389.06,253.11 L391.32,252.96 L393.59,253.82 L395.85,252.49 L398.12,251.74 L400.39,252.07 L402.65,252.67 L404.92,253.03 L407.18,253.68 L409.45,252.29 L411.71,252.90 L413.98,253.30 L416.24,253.05 L418.51,252.38 L420.77,253.59 L423.04,253.06 L425.30,251.75 L427.57,252.07 L429.83,252.23 L432.10,251.92 L434.36,251.74 L436.63,252.56 L438.90,250.09 L441.16,251.18 L443.43,250.60 L445.69,250.72 L447.96,251.21 L450.22,252.64 L452.49,250.53 L454.75,249.55 L457.02,248.01 L459.28,248.73 L461.55,249.73 L463.81,248.90 L466.08,247.51 L468.34,244.93 L470.61,247.10 L472.88,244.69 L475.14,243.99 L477.41,242.56 L479.67,241.95 L481.94,244.08 L484.20,240.23 L486.47,241.07 L488.73,239.58 L491.00,241.29 L493.26,239.44 L495.53,237.63 L497.79,238.75 L500.06,238.17 L502.32,237.46 L504.59,235.03 L506.85,237.65 L509.12,236.77 L511.39,234.29 L513.65,235.38 L515.92,231.76 L518.18,232.92 L520.45,231.02 L522.71,232.75 L524.98,233.33 L527.24,232.30 L529.51,233.46 L531.77,228.00 L534.04,232.58 L536.30,229.36 L538.57,228.12 L540.83,229.68 L543.10,230.48 L545.36,230.25 L547.63,231.71 L549.90,228.05 L552.16,227.22 L554.43,225.65 L556.69,227.73 L558.96,224.99 L561.22,226.06 L563.49,227.49 L565.75,227.20 L568.02,225.17 L570.28,229.85 L572.55,227.32 L574.81,226.48 L577.08,223.95 L579.34,224.99 L581.61,225.77 L583.87,219.69 L586.14,221.07 L588.41,220.97 L590.67,226.12 L592.94,227.85 L595.20,223.41 L597.47,222.71 L599.73,220.51 L602.00,225.21 L604.26,221.10 L606.53,224.35 L608.79,219.45 L611.06,219.73 L613.32,214.66 L615.59,213.67 L617.85,217.66 L620.12,215.79 L622.38,213.76 L624.65,213.05" fill="none" stroke="#9467bd" stroke-width="1.15" stroke-dasharray="3.5,1.6" stroke-linejoin="round"/>
<path d="M366.41,218.26 L368.67,218.52 L370.94,218.01 L373.20,218.89 L375.47,219.72 L377.73,220.38 L380.00,221.18 L382.26,222.30 L384.53,220.94 L386.79,224.04 L389.06,224.97 L391.32,226.19 L393.59,225.47 L395.85,224.23 L398.12,226.31 L400.39,227.92 L402.65,227.58 L404.92,230.01 L407.18,230.22 L409.45,231.43 L411.71,230.11 L413.98,232.92 L416.24,233.03 L418.51,234.60 L420.77,235.52 L423.04,236.75 L425.30,237.43 L427.57,237.83 L429.83,240.52 L432.10,244.04 L434.36,242.19 L436.63,242.76 L438.90,244.41 L441.16,244.69 L443.43,245.06 L445.69,246.08 L447.96,247.82 L450.22,246.79 L452.49,246.15 L454.75,245.39 L457.02,245.73 L459.28,245.13 L461.55,242.77 L463.81,245.14 L466.08,244.72 L468.34,243.97 L470.61,241.43 L472.88,241.46 L475.14,241.41 L477.41,239.50 L479.67,239.07 L481.94,238.47 L484.20,239.00 L486.47,239.11 L488.73,238.50 L491.00,238.92 L493.26,239.69 L495.53,239.24 L497.79,239.17 L500.06,239.28 L502.32,237.47 L504.59,235.45 L506.85,236.11 L509.12,237.61 L511.39,236.13 L513.65,235.68 L515.92,236.24 L518.18,235.17 L520.45,233.06 L522.71,232.68 L524.98,234.39 L527.24,234.16 L529.51,235.49 L531.77,232.40 L534.04,232.95 L536.30,231.44 L538.57,230.18 L540.83,234.29 L543.10,231.32 L545.36,228.46 L547.63,228.83 L549.90,227.67 L552.16,224.31 L554.43,225.36 L556.69,224.43 L558.96,221.90 L561.22,220.64 L563.49,225.17 L565.75,224.75 L568.02,222.38 L570.28,224.09 L572.55,222.63 L574.81,224.95 L577.08,223.56 L579.34,222.25 L581.61,218.06 L583.87,217.99 L586.14,218.52 L588.41,218.05 L590.67,221.00 L592.94,218.56 L595.20,217.06 L597.47,217.19 L599.73,217.63 L602.00,218.03 L604.26,217.35 L606.53,218.56 L608.79,220.35 L611.06,215.35 L613.32,210.80 L615.59,212.13 L617.85,215.33 L620.12,211.96 L622.38,211.81 L624.65,209.10" fill="none" stroke="#17becf" stroke-width="1.15" stroke-dasharray="3.5,1.6" stroke-linejoin="round"/>
<path d="M366.41,241.11 L368.67,241.54 L370.94,241.20 L373.20,243.85 L375.47,242.80 L377.73,244.74 L380.00,244.91 L382.26,243.61 L384.53,243.90 L386.79,247.54 L389.06,246.61 L391.32,246.71 L393.59,249.50 L395.85,247.11 L398.12,248.82 L400.39,249.14 L402.65,247.44 L404.92,250.23 L407.18,251.43 L409.45,252.26 L411.71,250.05 L413.98,250.45 L416.24,254.57 L418.51,251.02 L420.77,250.87 L423.04,256.43 L425.30,253.53 L427.57,251.55 L429.83,251.66 L432.10,250.85 L434.36,251.35 L436.63,247.98 L438.90,250.35 L441.16,248.11 L443.43,247.68 L445.69,246.81 L447.96,248.89 L450.22,246.60 L452.49,244.13 L454.75,246.14 L457.02,243.56 L459.28,242.71 L461.55,243.58 L463.81,242.60 L466.08,241.52 L468.34,241.16 L470.61,242.92 L472.88,237.52 L475.14,239.53 L477.41,237.94 L479.67,236.67 L481.94,236.84 L484.20,237.72 L486.47,236.30 L488.73,234.78 L491.00,234.24 L493.26,231.67 L495.53,235.79 L497.79,232.01 L500.06,233.96 L502.32,231.51 L504.59,233.90 L506.85,231.46 L509.12,234.31 L511.39,230.08 L513.65,234.27 L515.92,228.82 L518.18,230.73 L520.45,228.63 L522.71,228.61 L524.98,229.81 L527.24,230.21 L529.51,225.85 L531.77,224.13 L534.04,228.84 L536.30,225.08 L538.57,226.29 L540.83,226.25 L543.10,226.03 L545.36,223.93 L547.63,221.19 L549.90,226.03 L552.16,217.05 L554.43,224.56 L556.69,217.24 L558.96,216.40 L561.22,219.85 L563.49,219.66 L565.75,218.90 L568.02,218.11 L570.28,215.74 L572.55,214.70 L574.81,216.24 L577.08,212.80 L579.34,215.35 L581.61,213.86 L583.87,207.93 L586.14,211.74 L588.41,209.66 L590.67,211.22 L592.94,209.85 L595.20,209.90 L597.47,207.19 L599.73,207.85 L602.00,212.24 L604.26,215.53 L606.53,210.84 L608.79,210.38 L611.06,201.33 L613.32,204.33 L615.59,199.46 L617.85,203.94 L620.12,197.55 L622.38,201.61 L624.65,193.55" fill="none" stroke="#ff7f0e" stroke-width="1.15" stroke-dasharray="3.5,1.6" stroke-linejoin="round"/>
<path d="M366.41,232.93 L368.67,234.37 L370.94,234.23 L373.20,234.85 L375.47,235.60 L377.73,237.10 L380.00,238.23 L382.26,239.04 L384.53,234.55 L386.79,239.87 L389.06,237.90 L391.32,240.13 L393.59,239.24 L395.85,238.57 L398.12,237.86 L400.39,240.20 L402.65,241.27 L404.92,240.83 L407.18,240.25 L409.45,239.25 L411.71,236.95 L413.98,237.29 L416.24,241.59 L418.51,240.55 L420.77,241.54 L423.04,240.90 L425.30,238.71 L427.57,241.97 L429.83,239.22 L432.10,240.36 L434.36,241.05 L436.63,240.60 L438.90,238.25 L441.16,240.82 L443.43,241.19 L445.69,239.48 L447.96,239.47 L450.22,239.60 L452.49,242.74 L454.75,241.97 L457.02,239.02 L459.28,238.16 L461.55,237.84 L463.81,240.29 L466.08,236.98 L468.34,236.24 L470.61,238.62 L472.88,236.87 L475.14,235.91 L477.41,236.14 L479.67,232.61 L481.94,232.13 L484.20,232.44 L486.47,231.91 L488.73,228.98 L491.00,233.14 L493.26,229.91 L495.53,231.95 L497.79,228.68 L500.06,228.75 L502.32,228.89 L504.59,229.74 L506.85,227.19 L509.12,229.30 L511.39,229.40 L513.65,230.15 L515.92,225.39 L518.18,222.69 L520.45,223.60 L522.71,222.90 L524.98,224.68 L527.24,223.19 L529.51,220.99 L531.77,223.36 L534.04,222.68 L536.30,221.65 L538.57,220.61 L540.83,222.09 L543.10,227.07 L545.36,219.97 L547.63,221.94 L549.90,217.36 L552.16,217.33 L554.43,218.40 L556.69,216.77 L558.96,218.70 L561.22,214.19 L563.49,220.21 L565.75,213.43 L568.02,214.02 L570.28,218.25 L572.55,211.97 L574.81,215.38 L577.08,216.53 L579.34,213.79 L581.61,211.64 L583.87,208.56 L586.14,210.56 L588.41,207.36 L590.67,211.59 L592.94,204.98 L595.20,207.44 L597.47,209.64 L599.73,204.66 L602.00,210.07 L604.26,204.96 L606.53,215.07 L608.79,208.98 L611.06,199.55 L613.32,199.38 L615.59,204.31 L617.85,204.51 L620.12,198.90 L622.38,194.82 L624.65,202.45" fill="none" stroke="#d62728" stroke-width="1.15" stroke-dasharray="3.5,1.6" stroke-linejoin="round"/>
<path d="M366.41,252.08 L368.67,251.48 L370.94,250.83 L373.20,252.90 L375.47,250.59 L377.73,252.43 L380.00,250.94 L382.26,249.64 L384.53,250.37 L386.79,251.23 L389.06,250.55 L391.32,251.88 L393.59,251.45 L395.85,250.89 L398.12,251.17 L400.39,251.90 L402.65,251.78 L404.92,251.58 L407.18,251.39 L409.45,252.54 L411.71,250.70 L413.98,250.09 L416.24,252.46 L418.51,252.91 L420.77,250.94 L423.04,252.64 L425.30,251.43 L427.57,250.63 L429.83,250.96 L432.10,252.35 L434.36,251.76 L436.63,252.02 L438.90,251.38 L441.16,251.26 L443.43,250.27 L445.69,249.93 L447.96,249.58 L450.22,250.65 L452.49,249.51 L454.75,249.74 L457.02,249.11 L459.28,247.46 L461.55,246.79 L463.81,246.54 L466.08,245.71 L468.34,244.57 L470.61,244.80 L472.88,243.35 L475.14,242.21 L477.41,240.49 L479.67,238.90 L481.94,238.78 L484.20,237.74 L486.47,237.31 L488.73,237.50 L491.00,237.88 L493.26,237.54 L495.53,236.88 L497.79,235.75 L500.06,236.28 L502.32,233.05 L504.59,235.11 L506.85,234.08 L509.12,234.43 L511.39,234.11 L513.65,232.19 L515.92,231.71 L518.18,232.85 L520.45,232.90 L522.71,228.95 L524.98,229.15 L527.24,231.18 L529.51,229.68 L531.77,227.12 L534.04,228.43 L536.30,227.10 L538.57,225.92 L540.83,227.37 L543.10,222.96 L545.36,224.42 L547.63,221.88 L549.90,223.96 L552.16,220.09 L554.43,219.42 L556.69,222.44 L558.96,217.13 L561.22,216.16 L563.49,219.46 L565.75,220.32 L568.02,216.94 L570.28,218.25 L572.55,218.00 L574.81,217.80 L577.08,217.58 L579.34,220.51 L581.61,214.25 L583.87,212.20 L586.14,210.70 L588.41,213.88 L590.67,215.21 L592.94,210.98 L595.20,213.04 L597.47,211.36 L599.73,213.91 L602.00,213.48 L604.26,211.82 L606.53,214.51 L608.79,208.48 L611.06,210.99 L613.32,207.51 L615.59,207.08 L617.85,212.73 L620.12,205.40 L622.38,206.45 L624.65,202.19" fill="none" stroke="#9467bd" stroke-width="1.15" stroke-dasharray="1.0,1.3" stroke-linejoin="round"/>
<path d="M366.41,266.11 L368.67,264.98 L370.94,264.50 L373.20,264.08 L375.47,263.51 L377.73,263.05 L380.00,261.43 L382.26,262.23 L384.53,260.59 L386.79,261.06 L389.06,258.33 L391.32,260.15 L393.59,258.80 L395.85,257.67 L398.12,258.03 L400.39,256.91 L402.65,256.83 L404.92,256.34 L407.18,256.22 L409.45,255.28 L411.71,254.65 L413.98,254.56 L416.24,253.14 L418.51,254.14 L420.77,252.41 L423.04,253.40 L425.30,252.33 L427.57,252.41 L429.83,252.50 L432.10,250.87 L434.36,250.15 L436.63,249.91 L438.90,250.22 L441.16,249.68 L443.43,248.21 L445.69,246.57 L447.96,248.52 L450.22,248.68 L452.49,246.94 L454.75,247.03 L457.02,245.98 L459.28,246.32 L461.55,244.04 L463.81,243.61 L466.08,245.16 L468.34,244.66 L470.61,243.35 L472.88,242.00 L475.14,241.79 L477.41,240.91 L479.67,241.50 L481.94,239.22 L484.20,238.64 L486.47,239.61 L488.73,237.92 L491.00,240.26 L493.26,238.01 L495.53,238.89 L497.79,237.61 L500.06,236.30 L502.32,237.84 L504.59,235.57 L506.85,234.71 L509.12,235.67 L511.39,232.34 L513.65,235.34 L515.92,230.08 L518.18,233.04 L520.45,233.59 L522.71,232.61 L524.98,233.89 L527.24,230.54 L529.51,227.93 L531.77,226.35 L534.04,229.33 L536.30,230.11 L538.57,229.82 L540.83,230.32 L543.10,227.86 L545.36,229.21 L547.63,226.32 L549.90,226.38 L552.16,224.05 L554.43,226.35 L556.69,226.36 L558.96,224.09 L561.22,220.82 L563.49,226.49 L565.75,223.15 L568.02,220.23 L570.28,220.99 L572.55,217.13 L574.81,221.16 L577.08,216.94 L579.34,221.93 L581.61,217.61 L583.87,214.15 L586.14,213.17 L588.41,217.57 L590.67,216.37 L592.94,213.30 L595.20,216.27 L597.47,213.00 L599.73,209.68 L602.00,214.72 L604.26,212.13 L606.53,216.86 L608.79,216.08 L611.06,210.47 L613.32,212.58 L615.59,205.43 L617.85,211.90 L620.12,207.22 L622.38,210.58 L624.65,204.28" fill="none" stroke="#17becf" stroke-width="1.15" stroke-dasharray="1.0,1.3" stroke-linejoin="round"/>
<path d="M366.41,276.20 L368.67,276.33 L370.94,274.70 L373.20,272.88 L375.47,273.00 L377.73,274.62 L380.00,272.92 L382.26,270.92 L384.53,267.88 L386.79,269.01 L389.06,269.02 L391.32,266.32 L393.59,266.75 L395.85,264.17 L398.12,262.59 L400.39,263.04 L402.65,262.33 L404.92,261.22 L407.18,260.50 L409.45,258.80 L411.71,257.06 L413.98,257.16 L416.24,255.56 L418.51,254.63 L420.77,255.82 L423.04,254.28 L425.30,253.48 L427.57,253.03 L429.83,251.38 L432.10,254.36 L434.36,252.34 L436.63,249.08 L438.90,249.09 L441.16,251.41 L443.43,250.74 L445.69,247.29 L447.96,249.03 L450.22,248.31 L452.49,250.10 L454.75,247.57 L457.02,247.53 L459.28,245.46 L461.55,242.35 L463.81,243.41 L466.08,242.25 L468.34,242.59 L470.61,241.63 L472.88,241.62 L475.14,238.54 L477.41,240.05 L479.67,239.57 L481.94,237.61 L484.20,234.96 L486.47,237.75 L488.73,235.66 L491.00,238.54 L493.26,235.68 L495.53,237.23 L497.79,236.29 L500.06,234.82 L502.32,231.84 L504.59,229.23 L506.85,230.97 L509.12,234.17 L511.39,232.69 L513.65,234.49 L515.92,228.78 L518.18,230.79 L520.45,229.22 L522.71,230.52 L524.98,226.59 L527.24,229.22 L529.51,224.72 L531.77,224.86 L534.04,222.65 L536.30,228.23 L538.57,223.25 L540.83,222.79 L543.10,225.45 L545.36,221.01 L547.63,221.37 L549.90,219.82 L552.16,219.01 L554.43,216.77 L556.69,222.32 L558.96,215.12 L561.22,216.78 L563.49,219.40 L565.75,215.81 L568.02,213.70 L570.28,219.53 L572.55,215.05 L574.81,218.17 L577.08,215.21 L579.34,212.57 L581.61,213.93 L583.87,204.98 L586.14,210.13 L588.41,207.59 L590.67,212.42 L592.94,212.57 L595.20,206.86 L597.47,211.51 L599.73,201.94 L602.00,206.36 L604.26,206.69 L606.53,206.26 L608.79,206.43 L611.06,206.20 L613.32,203.92 L615.59,201.33 L617.85,206.90 L620.12,196.54 L622.38,201.21 L624.65,200.09" fill="none" stroke="#ff7f0e" stroke-width="1.15" stroke-dasharray="1.0,1.3" stroke-linejoin="round"/>
<path d="M366.41,233.66 L368.67,234.45 L370.94,236.15 L373.20,236.68 L375.47,233.94 L377.73,238.99 L380.00,237.40 L382.26,236.09 L384.53,235.10 L386.79,238.72 L389.06,236.59 L391.32,238.86 L393.59,236.77 L395.85,236.14 L398.12,237.49 L400.39,237.06 L402.65,237.62 L404.92,240.08 L407.18,238.13 L409.45,238.43 L411.71,236.75 L413.98,238.60 L416.24,238.34 L418.51,239.94 L420.77,239.12 L423.04,239.72 L425.30,239.64 L427.57,240.44 L429.83,239.97 L432.10,240.10 L434.36,240.41 L436.63,239.99 L438.90,239.55 L441.16,240.45 L443.43,241.29 L445.69,238.38 L447.96,239.58 L450.22,239.54 L452.49,242.81 L454.75,238.97 L457.02,240.17 L459.28,238.28 L461.55,237.98 L463.81,237.09 L466.08,236.72 L468.34,236.80 L470.61,236.55 L472.88,235.77 L475.14,237.24 L477.41,233.48 L479.67,231.09 L481.94,232.11 L484.20,229.77 L486.47,230.78 L488.73,232.30 L491.00,232.18 L493.26,230.47 L495.53,233.59 L497.79,229.68 L500.06,229.27 L502.32,228.29 L504.59,228.34 L506.85,227.27 L509.12,225.69 L511.39,227.48 L513.65,226.80 L515.92,225.19 L518.18,224.52 L520.45,222.94 L522.71,224.81 L524.98,225.72 L527.24,228.30 L529.51,224.01 L531.77,219.81 L534.04,223.11 L536.30,222.01 L538.57,219.59 L540.83,224.72 L543.10,226.11 L545.36,220.19 L547.63,223.39 L549.90,220.80 L552.16,218.92 L554.43,216.81 L556.69,219.69 L558.96,211.74 L561.22,209.52 L563.49,215.60 L565.75,215.07 L568.02,210.03 L570.28,215.17 L572.55,212.89 L574.81,213.11 L577.08,209.97 L579.34,209.50 L581.61,201.36 L583.87,207.85 L586.14,209.69 L588.41,205.92 L590.67,204.69 L592.94,203.75 L595.20,203.57 L597.47,202.15 L599.73,199.69 L602.00,208.20 L604.26,205.44 L606.53,195.21 L608.79,195.97 L611.06,191.71 L613.32,188.43 L615.59,194.74 L617.85,199.38 L620.12,184.50 L622.38,179.30 L624.65,181.94" fill="none" stroke="#d62728" stroke-width="1.15" stroke-dasharray="1.0,1.3" stroke-linejoin="round"/>
</g>
<rect x="353.6" y="12.35" width="283.70" height="276.95" fill="none" stroke="#505050" stroke-width="1"/>
<line x1="364.00" y1="289.3" x2="364.00" y2="291.8" stroke="#505050" stroke-width="0.8"/>
<text x="358.35" y="300.2" font-size="9.5" textLength="11.3" lengthAdjust="spacingAndGlyphs">0.0</text>
<line x1="404.10" y1="289.3" x2="404.10" y2="291.8" stroke="#505050" stroke-width="0.8"/>
<text x="398.45" y="300.2" font-size="9.5" textLength="11.3" lengthAdjust="spacingAndGlyphs">0.5</text>
<line x1="444.20" y1="289.3" x2="444.20" y2="291.8" stroke="#505050" stroke-width="0.8"/>
<text x="438.55" y="300.2" font-size="9.5" textLength="11.3" lengthAdjust="spacingAndGlyphs">1.0</text>
<line x1="484.30" y1="289.3" x2="484.30" y2="291.8" stroke="#505050" stroke-width="0.8"/>
<text x="478.65" y="300.2" font-size="9.5" textLength="11.3" lengthAdjust="spacingAndGlyphs">1.5</text>
<line x1="524.40" y1="289.3" x2="524.40" y2="291.8" stroke="#505050" stroke-width="0.8"/>
<text x="518.75" y="300.2" font-size="9.5" textLength="11.3" lengthAdjust="spacingAndGlyphs">2.0</text>
<line x1="564.50" y1="289.3" x2="564.50" y2="291.8" stroke="#505050" stroke-width="0.8"/>
<text x="558.85" y="300.2" font-size="9.5" textLength="11.3" lengthAdjust="spacingAndGlyphs">2.5</text>
<line x1="604.60" y1="289.3" x2="604.60" y2="291.8" stroke="#505050" stroke-width="0.8"/>
<text x="598.95" y="300.2" font-size="9.5" textLength="11.3" lengthAdjust="spacingAndGlyphs">3.0</text>
<line x1="351.1" y1="258.30" x2="353.6" y2="258.30" stroke="#505050" stroke-width="0.8"/>
<line x1="351.1" y1="120.20" x2="353.6" y2="120.20" stroke="#505050" stroke-width="0.8"/>
<line x1="352.0" y1="288.94" x2="353.6" y2="288.94" stroke="#505050" stroke-width="0.6"/>
<line x1="352.0" y1="279.69" x2="353.6" y2="279.69" stroke="#505050" stroke-width="0.6"/>
<line x1="352.0" y1="271.68" x2="353.6" y2="271.68" stroke="#505050" stroke-width="0.6"/>
<line x1="352.0" y1="264.62" x2="353.6" y2="264.62" stroke="#505050" stroke-width="0.6"/>
<line x1="352.0" y1="216.73" x2="353.6" y2="216.73" stroke="#505050" stroke-width="0.6"/>
<line x1="352.0" y1="192.41" x2="353.6" y2="192.41" stroke="#505050" stroke-width="0.6"/>
<line x1="352.0" y1="175.16" x2="353.6" y2="175.16" stroke="#505050" stroke-width="0.6"/>
<line x1="352.0" y1="161.77" x2="353.6" y2="161.77" stroke="#505050" stroke-width="0.6"/>
<line x1="352.0" y1="150.84" x2="353.6" y2="150.84" stroke="#505050" stroke-width="0.6"/>
<line x1="352.0" y1="141.59" x2="353.6" y2="141.59" stroke="#505050" stroke-width="0.6"/>
<line x1="352.0" y1="133.58" x2="353.6" y2="133.58" stroke="#505050" stroke-width="0.6"/>
<line x1="352.0" y1="126.52" x2="353.6" y2="126.52" stroke="#505050" stroke-width="0.6"/>
<line x1="352.0" y1="78.63" x2="353.6" y2="78.63" stroke="#505050" stroke-width="0.6"/>
<line x1="352.0" y1="54.31" x2="353.6" y2="54.31" stroke="#505050" stroke-width="0.6"/>
<line x1="352.0" y1="37.06" x2="353.6" y2="37.06" stroke="#505050" stroke-width="0.6"/>
<line x1="352.0" y1="23.67" x2="353.6" y2="23.67" stroke="#505050" stroke-width="0.6"/>
<line x1="352.0" y1="12.74" x2="353.6" y2="12.74" stroke="#505050" stroke-width="0.6"/>
<text x="337.7" y="124.20" font-size="9.6" textLength="8.3" lengthAdjust="spacingAndGlyphs">10</text><text x="346.2" y="118.50" font-size="5.6">0</text>
<text x="333.9" y="262.50" font-size="9.6" textLength="8.3" lengthAdjust="spacingAndGlyphs">10</text><text x="342.3" y="256.90" font-size="5.6">−1</text>
<text transform="translate(327.8,150.8) rotate(-90)" font-size="10.2" text-anchor="middle">RMS Reconstruction Error (rad)</text>
<text x="495.4" y="311.6" font-size="10.2" text-anchor="middle">Wavefront RMS (rad)</text>
<text x="417.8" y="8.5" font-size="11.9" textLength="156.3" lengthAdjust="spacingAndGlyphs">Wavefront Reconstruction Error</text>
<rect x="353.0" y="17.8" width="279.4" height="73.6" rx="2" fill="#fff" fill-opacity="0.8" stroke="#e0e0e0" stroke-width="0.8"/>
<text x="385.5" y="29.3" font-size="10.2">PyWFS modulation radius</text>
<line x1="357.0" y1="39.7" x2="377.5" y2="39.7" stroke="#9467bd" stroke-width="1.4"/>
<text x="385.5" y="43.5" font-size="10.2">100 mas</text>
<line x1="357.0" y1="53.9" x2="377.5" y2="53.9" stroke="#17becf" stroke-width="1.4"/>
<text x="385.5" y="57.699999999999996" font-size="10.2">75 mas</text>
<line x1="357.0" y1="68.1" x2="377.5" y2="68.1" stroke="#ff7f0e" stroke-width="1.4"/>
<text x="385.5" y="71.89999999999999" font-size="10.2">50 mas</text>
<line x1="357.0" y1="82.3" x2="377.5" y2="82.3" stroke="#d62728" stroke-width="1.4"/>
<text x="385.5" y="86.1" font-size="10.2">25 mas</text>
<text x="542.7" y="29.3" font-size="10.2">Model</text>
<line x1="513.4" y1="39.7" x2="534.7" y2="39.7" stroke="#000" stroke-width="1.1"/>
<text x="542.7" y="43.5" font-size="10.2">MVM</text>
<line x1="513.4" y1="53.9" x2="534.7" y2="53.9" stroke="#000" stroke-width="1.1" stroke-dasharray="3.5,1.6"/>
<text x="542.7" y="57.699999999999996" font-size="10.2">Zernike-basis NN</text>
<line x1="513.4" y1="68.1" x2="534.7" y2="68.1" stroke="#000" stroke-width="1.1" stroke-dasharray="1.0,1.3"/>
<text x="542.7" y="71.89999999999999" font-size="10.2">Actuator-basis NN</text>
<text x="442.8" y="334.9" font-size="12.2" stroke-width="0.05" textLength="73.7" lengthAdjust="spacingAndGlyphs">(b) Log scale</text>
</g></svg>
</body></html>
